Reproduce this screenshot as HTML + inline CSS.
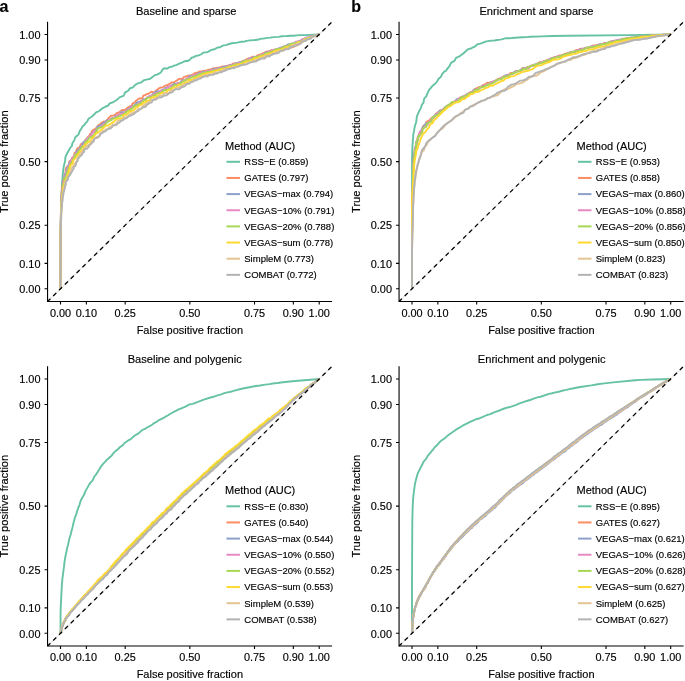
<!DOCTYPE html><html><head><meta charset="utf-8"><style>html,body{margin:0;padding:0;background:#fff;overflow:hidden}svg{display:block;will-change:transform}text{stroke:#000;stroke-width:0.15px}</style></head><body>
<svg width="685" height="681" viewBox="0 0 685 681" font-family="'Liberation Sans', sans-serif" fill="#000">
<rect width="685" height="681" fill="#fff"/>
<clipPath id="clipa"><rect x="47.56" y="21.78" width="284.57" height="279.73"/></clipPath>
<line x1="47.56" y1="301.51" x2="332.13" y2="21.78" stroke="#e6e6e6" stroke-width="1.1"/>
<g clip-path="url(#clipa)" fill="none" stroke-linejoin="round" stroke-linecap="butt">
<path d="M60.50 288.80l0.04 -48.19l0.47 -27.85l0.36 -14.99l0.47 -9.62l0.13 -5.36l0.57 -4.26l0.07 -2.14l0.79 -7.46l0.46 -3.18l1.15 -4.13l0.41 -4.36l0.35 -1.03l1.37 -2.96l2.23 -3.7l0.4 -1l0.53 -0.93l0.85 -0.77l0.68 -0.85l0.41 -2.2l0.36 -1.03l1.25 -1.76l0.48 -0.96l0.72 -2.07l0.51 -0.95l0.8 -0.77l0.95 -0.66l0.79 -0.76l0.56 -0.91l0.7 -2.11l0.49 -0.96l1.27 -1.72l1.55 -2.85l1.75 -1.39l1.12 -1.84l0.87 -0.68l0.72 -0.8l0.94 -2.04l0.65 -0.88l0.84 -0.69l1.03 -0.49l0.93 -0.58l3.11 -2.97l1.48 -1.59l0.99 -0.48l1.09 -0.33l0.93 -0.54l2.46 -2.09l3.69 -2.19l2.08 -0.73l0.88 -0.61l1.38 -1.81l0.91 -0.57l1.13 -0.23l1.04 -0.36l1.83 -1.13l1.89 -1.03l3.23 -2.87l0.97 -0.5l2.14 -0.7l0.93 -0.55l0.57 -1.03l0.38 -1.3l0.64 -0.93l2.82 -1.6l0.74 -0.78l0.58 -1.03l0.79 -0.74l2.19 -0.64l0.89 -0.6l1.49 -1.63l0.82 -0.73l1.87 -1.12l1.02 -0.4l2.2 -0.45l0.91 -0.58l1.71 -1.41l0.95 -0.49l3.16 -0.84l2.21 -0.34l0.97 -0.47l0.84 -0.72l1.77 -1.23l1.65 -1.45l2.12 -0.58l2.87 -1.47l0.9 -0.57l0.68 -0.97l0.59 -1.1l0.71 -0.93l0.78 -0.81l1.01 -0.41l2.65 0.33l0.94 -0.51l0.84 -0.73l1.02 -0.35l1.12 -0.12l1.03 -0.32l1.94 -0.91l2.09 -0.53l0.98 -0.42l1.87 -1.12l3.03 -1.08l1.91 -0.99l1.01 -0.35l1.09 -0.16l1.17 0l1.05 -0.29l1.75 -1.35l1.59 -1.63l2.09 -0.58l1.85 -1.09l1.02 -0.36l2.21 -0.35l0.99 -0.39l1.9 -0.97l1.74 -1.43l1.04 -0.26l1.18 0.08l1.12 -0.06l1 -0.38l2.82 -1.64l0.97 -0.46l1.02 -0.33l2.16 -0.35l0.96 -0.47l0.9 -0.66l0.95 -0.52l2.16 -0.31l1.01 -0.34l1.9 -1.12l1.01 -0.36l2.14 -0.31l5.12 -1.62l1.05 -0.19l5.35 -0.61l2.06 -0.61l2.11 -0.36l3.22 -0.23l2.08 -0.55l3.17 -0.57l5.36 -0.33l3.17 -0.53l2.07 -0.67l1.05 -0.18l2.16 -0.02l3.14 -0.75l3.21 -0.26l4.25 -0.5l4.28 -0.25l3.18 -0.56l2.13 -0.23l3.22 -0.06l3.2 -0.33l3.22 0l3.19 -0.35l4.29 -0.18l3.21 -0.02l14.98 -0.64" stroke="#66C2A5" stroke-width="1.9"/>
<path d="M60.50 288.80l0.03 -52.63l0.5 -31.16l0.16 -5.54l0.35 -6.92l0.25 -1.37l0.23 -2.77l0.45 -2.73l0.32 -1.36l0.38 -2.74l0.59 -2.01l0.16 -1.38l0.58 -2l0.15 -1.38l0.77 -1.23l0.17 -0.67l-0.03 -1.45l0.17 -0.68l0.04 -1.46l0.17 -0.68l0.53 -1.3l1.19 -1.01l0.45 -0.56l1.11 -0.99l0.24 -0.64l-0.32 -1.72l0.1 -0.74l0.47 -0.53l1.23 -0.89l0.41 -0.56l0.51 -1.31l0.42 -0.55l1.15 -0.91l0.37 -0.58l0.59 -2.94l0.38 -0.58l0.65 -0.39l0.53 -0.48l0.38 -1.42l0.67 -1.23l0.24 -0.69l0.41 -0.55l1.62 -0.55l0.47 -0.51l0.6 -1.28l0.4 -1.43l0.65 -0.38l1.75 -0.41l0.61 -0.39l0.34 -0.6l0.49 -1.38l0.66 -1.25l0.57 -0.43l0.73 -0.28l0.52 -0.46l0.52 -1.38l1.13 -0.85l0.45 -0.53l0.5 -1.4l0.36 -0.6l1.22 -0.77l0.32 -0.64l0.14 -0.82l0.35 -0.61l0.99 -0.99l0.58 -0.41l0.78 -0.22l0.67 -0.31l0.9 -1.05l1.04 -0.92l0.39 -0.61l0.3 -0.71l0.43 -0.57l1.88 -1.03l0.95 -1.06l0.57 -0.41l1.24 -0.68l0.54 -0.45l0.72 -0.21l1.77 0.11l0.5 -0.49l0.33 -0.75l0.98 -1.05l0.87 -1.26l1.18 -0.79l0.88 -1.3l0.7 -0.21l0.79 -0.03l0.71 -0.17l1.4 -0.38l0.65 -0.28l2.2 -1.85l1.45 -0.31l0.58 -0.39l0.52 -0.54l1.25 -0.64l0.56 -0.46l0.46 -0.6l0.66 -0.28l1.88 0.4l0.64 -0.33l0.51 -0.53l1.24 -0.7l0.44 -0.62l0.52 -0.51l1.3 -0.61l0.56 -0.45l0.66 -0.29l0.8 -0.11l0.64 -0.33l0.36 -0.72l0.22 -0.9l0.35 -0.72l0.63 -0.34l1.38 -0.51l0.5 -0.51l0.35 -0.72l0.44 -0.61l1.23 -0.71l1.64 -1.39l0.67 -0.26l1.77 0.2l0.76 -0.08l0.54 -0.46l0.52 -1.93l0.48 -0.57l1.38 -0.42l1.86 -0.99l2.08 -0.55l1.18 -0.75l1.07 -0.97l0.67 -0.2l1.92 0.7l0.78 0l0.51 -0.51l0.42 -0.71l0.51 -0.54l0.6 -0.34l1.67 -1.31l1.77 -1.1l0.65 -0.25l1.57 0.1l2.87 -1.98l0.67 -0.2l1.4 -0.22l1.25 -0.55l1.11 -0.88l0.64 -0.26l0.59 -0.37l0.51 -0.54l0.61 -0.33l1.52 0.11l0.71 -0.07l0.58 -0.38l0.54 -0.5l2.41 -1.32l1.04 -1.04l0.63 -0.25l0.68 -0.13l2.3 0.19l0.62 -0.28l0.89 -1.38l0.55 -0.43l0.64 -0.24l1.36 -0.28l1.23 -0.6l1.46 -0.02l3.31 -0.87l0.62 -0.28l1.7 -1.3l2 -0.52l1.36 -0.2l0.62 -0.34l0.57 -0.5l0.63 -0.28l1.4 -0.09l3.39 -0.6l1.42 0.06l0.67 -0.14l1.25 -0.74l3.36 -0.77l2.63 -0.89l2.1 -0.07l1.32 -0.43l1.43 0.04l0.68 -0.12l3.26 -1.22l1.46 0.09l0.7 -0.05l2.62 -0.92l1.44 0.01l0.64 -0.28l0.61 -0.43l1.99 -0.57l1.21 -0.83l0.69 -0.1l2.17 0.02l1.94 -0.77l1.48 0.05l2.52 -1.23l0.58 -0.43l0.63 -0.3l1.35 -0.36l3.69 -1.95l1.37 -0.31l3.17 -1.41l0.74 -0.01l1.63 0.41l0.62 -0.33l1.07 -1.06l2.54 -1.14l2.02 -0.5l1.2 -0.77l1.35 -0.32l0.64 -0.27l1.15 -0.91l0.64 -0.27l1.49 0.06l1.29 -0.43l1.88 -0.84l1.34 -0.18l1.94 -0.5l1.32 -0.16l1.3 -0.31l2 -0.02l7.21 -1.1l2.04 -0.04l2.05 -0.17l0.66 -0.22l1.26 -0.62l1.43 -0.12l0.58 -0.47l0.45 -0.76l0.61 -0.36l1.59 0.07l2.56 -1.39l0.59 -0.47l0.99 -1.25l0.65 -0.35l1.47 -0.45l1.77 -1.44l1.1 -1.12l0.7 -0.28l1.77 0.1l0.75 -0.17l1.89 -1.16l2 -0.84l1.22 -0.84l1.35 -0.44l3.42 -0.75" stroke="#FC8D62" stroke-width="1.9"/>
<path d="M60.50 288.80l0.05 -54.6l0.39 -22.11l0.32 -11.06l0.17 -2.76l-0.02 -2.07l0.37 -2.05l0.17 -2.07l0.43 -2.03l0.41 -1.34l0.14 -4.17l0.3 -1.35l0.74 -1.97l0.07 -1.39l0.57 -1.99l-0.1 -1.45l0.08 -0.7l0.67 -1.25l0.33 -1.34l0.81 -1.92l0.2 -2.14l0.77 -1.2l0.47 -1.3l0.4 -0.59l0.55 -1.27l0.68 -1.22l0.29 -1.42l0.35 -0.6l0.46 -0.54l1.76 -1.37l0.75 -1.16l1.11 -0.92l0.43 -0.54l0.51 -2.14l0.51 -1.33l0.65 -1.23l0.51 -1.34l0.57 -0.45l1.53 -0.59l0.45 -0.53l0.4 -1.42l0.36 -0.6l0.52 -0.47l1.24 -0.79l0.43 -0.54l0.02 -1.74l0.2 -0.72l0.47 -0.52l1.48 -0.58l0.84 -1.1l1.15 -0.84l0.56 -1.34l0.51 -0.47l2.07 -0.94l0.56 -0.41l0.47 -0.51l0.29 -0.66l0.25 -1.65l0.44 -0.53l1.16 -0.81l0.89 -1.06l0.53 -0.44l0.7 -0.29l0.59 -0.37l1.01 -0.93l0.38 -0.6l0.28 -1.75l0.47 -0.52l1.35 -0.56l0.75 -0.19l0.62 -0.32l0.46 -0.54l1.18 -0.73l0.88 -1.13l1.83 -1.01l1.61 -1.33l1.34 -0.48l0.58 -0.37l0.66 -0.24l1.46 -0.21l1.59 -1.39l0.6 -0.33l1.4 -0.3l0.59 -0.36l0.94 -1.21l0.61 -0.31l1.51 -0.09l0.69 -0.16l1.26 -0.58l0.54 -0.48l0.68 -1.67l0.51 -0.5l1.57 0.01l0.74 -0.09l1.46 -0.24l0.65 -0.27l1.38 -1.75l1.15 -0.78l1.24 -0.62l0.57 -0.39l0.95 -1.08l0.63 -0.29l1.39 -0.42l0.55 -0.41l0.97 -1.03l1.23 -0.65l0.52 -0.47l0.76 -1.36l0.71 -0.2l0.91 0.15l0.79 -0.04l0.54 -0.43l0.45 -0.6l0.6 -0.33l0.79 0l0.68 -0.2l0.82 -1.36l0.63 -0.3l1.75 0.36l0.61 -0.32l1.4 -1.79l1.11 -0.86l0.64 -0.27l1.44 -0.21l0.59 -0.37l0.94 -1.21l0.55 -0.46l0.62 -0.3l1.11 -0.87l1.76 -1.14l0.62 -0.3l0.76 -0.02l1.69 0.32l0.62 -0.3l0.47 -0.61l0.58 -0.4l2.03 -0.56l0.64 -0.27l0.94 -1.24l0.62 -0.31l0.72 -0.1l0.63 -0.29l0.55 -0.44l0.66 -0.23l0.75 -0.02l0.69 -0.15l0.63 -0.3l0.62 -0.3l1.07 -0.97l1.29 -0.52l1.13 -0.86l1.58 0.14l0.66 -0.21l0.6 -0.35l1.32 -0.44l1.38 -0.31l0.57 -0.42l0.98 -1.17l1.13 -0.83l0.73 -0.08l0.91 0.29l0.78 0.03l1.12 -0.84l1.4 -0.28l0.53 -0.5l0.79 -1.57l0.48 -0.61l0.54 -0.49l0.67 -0.21l2.21 -0.13l1.56 0.15l0.65 -0.24l1.69 -1.35l2.48 -1.27l0.69 -0.13l1.44 -0.03l1.86 -1.05l0.66 -0.21l0.73 0.06l0.78 0.22l0.71 0l1.24 -0.71l3.37 -0.78l2.56 -1.15l0.67 -0.17l2.76 -0.36l1.96 -0.69l2.18 0.17l3.87 -1.61l0.68 -0.11l0.76 0.15l0.69 -0.09l1.24 -0.72l1.93 -0.79l0.69 -0.1l1.44 0.03l1.39 -0.18l0.65 -0.23l1.78 -1.31l2.1 -0.21l2.55 -1.09l2.09 -0.29l0.65 -0.26l1.2 -0.73l0.7 -0.1l1.54 0.16l0.72 -0.06l0.56 -0.47l0.99 -1.26l0.56 -0.48l0.6 -0.36l0.65 -0.22l2.11 -0.31l1.24 -0.63l0.7 -0.11l1.51 0.11l0.69 -0.14l1.85 -0.97l1.33 -0.38l0.6 -0.36l1.35 -0.33l0.64 -0.27l1.22 -0.69l1.74 -1.28l0.63 -0.3l3.42 -0.7l0.75 0.05l0.69 -0.12l1.16 -0.86l1.91 -0.83l0.65 -0.22l0.75 0.04l0.7 -0.09l1.22 -0.71l1.32 -0.4l1.26 -0.59l1.36 -0.29l1.23 -0.68l0.65 -0.21l1.37 -0.27l2.53 -1.15l1.18 -0.83l0.67 -0.18l1.44 -0.05l0.68 -0.13l0.62 -0.33l0.66 -0.19l1.48 0l0.65 -0.23l1.14 -0.88l0.69 -0.14l0.74 -0.02l0.65 -0.23l1.15 -0.85l0.63 -0.29l1.38 -0.27l1.11 -0.95l0.66 -0.19l0.73 -0.04l0.66 -0.2l2.34 -1.66l0.69 -0.12l1.47 0l1.41 -0.14l1.99 -0.51l1.24 -0.66l1.93 -0.78l2.01 -0.53l2.05 -0.31" stroke="#8DA0CB" stroke-width="1.9"/>
<path d="M60.50 288.80l0.06 -55.91l0.53 -24.84l0.28 -8.28l0.22 -2.75l0.26 -2.74l0.23 -1.37l0.08 -2.07l0.44 -1.33l0.12 -0.68l0.01 -1.4l0.59 -1.29l0.14 -0.68l-0.14 -2.13l0.04 -0.7l0.22 -0.66l0.74 -1.24l0.27 -0.65l0.19 -1.36l0.58 -1.27l0 -1.42l0.52 -1.28l0.24 -1.37l0.27 -0.64l0.14 -1.41l0.16 -0.68l0.35 -0.6l0.98 -1.1l0.36 -0.6l0.14 -1.43l0.43 -0.57l0.57 -0.49l0.39 -0.57l0.12 -0.71l0 -0.77l0.39 -1.36l0.09 -0.74l0.28 -0.65l0.57 -0.47l0.4 -0.57l0.24 -1.48l0.28 -0.65l1.14 -0.92l1.54 -2.31l1.07 -0.94l2.31 -2.59l1.06 -0.93l1.72 -3.02l0.59 -0.42l0.68 -0.34l1.45 -1.49l0.3 -1.52l0.32 -0.62l0.54 -0.46l0.65 -0.35l0.46 -0.51l0.47 -1.42l0.89 -1.05l1 -1.89l0.5 -0.48l1.24 -0.74l1.46 -1.47l0.39 -0.58l0.56 -1.38l0.55 -0.42l1.33 -0.65l1.57 -0.37l0.66 -0.3l0.36 -0.62l0.17 -0.81l0.37 -0.61l1.37 -0.54l1.71 -1.15l0.55 -0.4l1.4 -1.54l0.52 -0.45l2.38 -1.4l1.57 -1.35l1.22 -0.64l0.73 -1.47l0.64 -0.29l1.71 0.23l0.6 -0.32l0.96 -1.14l0.68 -0.18l0.76 -0.02l0.64 -0.28l2.04 -2.06l1.06 -0.95l0.61 -0.32l0.77 -0.01l0.71 -0.13l0.56 -0.42l0.64 -0.26l1.57 -0.01l0.67 -0.22l0.55 -0.43l0.98 -1.08l1.09 -0.88l0.62 -0.3l1.35 -0.45l2.53 -2.45l0.55 -0.41l1.2 -0.68l0.66 -0.26l1.67 0l0.65 -0.28l0.46 -0.54l1.17 -0.73l0.88 -1.15l0.57 -0.39l1.36 -0.41l0.62 -0.31l0.52 -0.46l0.92 -1.14l1.31 -0.48l1.21 -0.67l0.67 -0.21l0.53 -0.47l0.81 -1.4l0.6 -0.34l1.37 -0.37l1.15 -0.79l0.63 -0.29l1.48 -0.14l0.59 -0.36l0.45 -0.65l0.56 -0.4l1.33 -0.44l1.16 -0.77l2.07 -0.48l0.61 -0.33l1.1 -0.9l0.59 -0.35l1.46 -0.15l1.38 -0.32l0.55 -0.44l0.49 -0.59l0.66 -0.22l0.79 0.07l0.61 -0.33l0.82 -1.49l0.57 -0.41l1.23 -0.63l1.28 -0.54l1.45 -0.15l2.08 -0.43l0.63 -0.28l1.13 -0.85l1.43 -0.2l0.58 -0.4l0.5 -0.54l0.66 -0.24l1.54 0.06l0.71 -0.13l0.52 -0.51l0.84 -1.46l0.6 -0.35l0.77 0.02l0.85 0.17l0.69 -0.16l0.7 -1.73l0.57 -0.41l1.92 -0.8l1.43 -0.19l1.9 -0.84l1.11 -0.91l0.6 -0.37l2.03 -0.52l1.41 -0.19l1.27 -0.54l0.69 -0.13l0.73 0.01l0.66 -0.2l1.11 -1.06l0.7 -0.07l0.79 0.23l0.73 0.06l0.66 -0.22l1.22 -0.75l0.64 -0.27l2.01 -0.52l0.7 -0.02l0.67 -0.18l1.25 -0.7l1.32 -0.39l0.68 -0.16l1.43 0.08l1.4 -0.09l1.89 -0.98l0.65 -0.24l2.06 -0.31l1.44 0.07l0.7 -0.08l1.31 -0.45l2.01 -0.51l0.62 -0.32l1.19 -0.89l0.65 -0.24l1.46 0.09l0.68 -0.11l1.88 -1l1.28 -0.54l2.71 -0.56l1.27 -0.57l1.44 0.01l1.39 -0.17l0.64 -0.28l0.59 -0.43l0.65 -0.22l0.74 0.04l0.68 -0.15l0.58 -0.43l0.64 -0.27l1.45 -0.06l0.64 -0.27l1.12 -0.93l1.29 -0.5l1.06 -1.1l0.72 -0.04l0.81 0.19l0.74 -0.02l1.24 -0.59l1.4 -0.22l1.24 -0.61l1.18 -0.79l1.23 -0.65l1.32 -0.41l1.39 -0.22l0.66 -0.2l1.15 -0.88l0.68 -0.15l1.43 -0.12l0.65 -0.21l0.61 -0.35l1.16 -0.86l0.64 -0.26l1.39 -0.19l1.34 -0.38l1.06 -1.13l0.65 -0.24l0.78 0.13l0.82 0.27l0.73 -0.02l1.13 -0.94l0.65 -0.24l1.4 -0.17l2.52 -1.14l1.38 -0.25l1.75 -1.28l1.4 -0.15l1.31 -0.43l2.78 -0.4l1.33 -0.39l1.29 -0.52l1.15 -0.87l1.23 -0.63l1.08 -1.05l0.59 -0.36l3.54 -0.43l0.64 -0.27l1.06 -1.05l0.58 -0.42l0.64 -0.26l1.39 -0.25l1.21 -0.68l0.66 -0.21l0.74 -0.02l1.53 0.16l0.58 -0.41l0.98 -1.37l0.62 -0.34l1.47 0.04l2.75 -0.42l0.67 -0.15l1.3 -0.5l2.7 -0.54" stroke="#E78AC3" stroke-width="1.9"/>
<path d="M60.50 288.80l0.02 -49.59l0.44 -26.86l0.19 -2.76l0.09 -4.13l0.47 -7.56l0.99 -6.8l-0.12 -2.11l0.56 -2l-0.01 -1.41l0.07 -0.69l0.19 -0.66l0.33 -0.64l0.98 -1.18l0.27 -0.64l-0.1 -0.72l-0.61 -1.58l-0.02 -0.72l0.42 -0.6l1.13 -1.11l0.31 -0.61l0.66 -1.95l0.1 -0.69l-0.09 -0.75l0.05 -0.72l0.43 -0.57l0.68 -0.48l0.43 -0.56l-0.05 -1.51l0.18 -0.67l2.08 -3.58l0.67 -1.98l0.84 -1.11l0.32 -0.61l0.36 -1.39l0.3 -0.62l1.41 -1.56l0.2 -0.7l0.06 -0.79l0.25 -0.66l0.89 -1.07l1.75 -1.31l1.48 -2.33l1.01 -0.96l0.53 -1.33l0.38 -0.58l1.08 -0.9l0.39 -0.57l0.53 -0.45l0.79 -0.26l0.63 -0.37l0.26 -0.67l0.2 -1.62l0.19 -0.74l0.56 -0.43l0.77 -0.26l0.62 -0.36l0.64 -1.28l0.95 -1l0.77 -1.16l0.47 -0.51l0.74 -0.25l0.91 -0.09l0.72 -0.26l0.82 -1.11l1.16 -0.79l0.48 -0.48l0.52 -1.41l0.36 -0.62l0.9 -1.04l0.3 -0.69l0.42 -1.58l0.48 -0.51l1.4 -0.53l1.25 -0.66l1.54 -0.27l1.37 -0.46l0.45 -0.53l0.36 -0.68l0.51 -0.45l1.16 -0.73l0.45 -0.56l0.77 -1.34l0.52 -0.47l1.72 -1.18l0.69 -0.2l0.77 -0.05l0.65 -0.26l0.91 -1.22l0.58 -0.36l2.85 -0.54l1.83 -0.95l1.95 -0.74l1.77 -1.06l1.39 -0.34l0.62 -0.31l1.72 -1.17l0.51 -0.5l0.4 -0.68l0.5 -0.51l0.67 -0.22l0.58 -0.37l0.47 -0.55l0.6 -0.33l1.54 -0.14l0.49 -0.52l0.39 -0.66l0.6 -0.34l0.71 -0.17l0.54 -0.44l0.27 -0.83l0.36 -0.69l1.29 -0.55l0.51 -0.49l0.6 -0.33l0.81 -0.03l0.71 -0.19l0.53 -0.45l0.63 -0.28l1.48 -0.23l1.03 -0.95l1.09 -0.85l1.49 -1.54l0.64 -0.28l0.74 -0.09l0.59 -0.35l1.41 -1.72l0.57 -0.41l0.71 -0.13l1.55 -0.02l0.69 -0.16l1.2 -0.69l1.07 -0.94l0.59 -0.35l1.42 -0.24l0.61 -0.31l1 -1.09l0.63 -0.28l1.38 -0.32l1.26 -0.55l0.71 -0.12l0.65 -0.22l1.21 -0.68l2.28 -1.62l0.67 -0.19l1.61 0.16l0.67 -0.19l1.72 -1.18l0.62 -0.31l1.38 -0.29l0.63 -0.28l0.96 -1.2l0.59 -0.36l0.53 -0.49l0.45 -0.66l0.61 -0.33l1.71 0.41l0.74 -0.05l0.67 -0.19l0.6 -0.34l1.54 -1.58l1.32 -0.43l1.09 -0.91l2.46 -1.26l1.08 -0.93l1.46 -0.14l1.99 -0.63l1.09 -0.92l0.63 -0.28l0.71 -0.1l0.64 -0.26l0.56 -0.43l0.65 -0.23l0.77 0.04l0.7 -0.1l1.15 -0.82l1.31 -0.44l1.2 -0.72l1.28 -0.53l2.02 -0.48l1.94 -0.72l2.09 -0.2l1.24 -0.71l0.65 -0.23l1.48 0.22l0.7 -0.04l1.24 -0.69l1.29 -0.53l0.7 -0.03l0.74 0.11l0.69 -0.06l2.02 -0.45l0.65 -0.26l1.21 -0.81l0.67 -0.15l1.46 0.12l1.9 -0.88l2.07 -0.27l1.99 -0.58l1.91 -0.82l1.4 -0.12l1.28 -0.53l1.36 -0.26l1.21 -0.8l1.28 -0.51l1.4 -0.13l2.23 0.25l0.62 -0.36l1.06 -1.22l0.58 -0.45l1.26 -0.54l1.96 -0.63l1.21 -0.69l0.71 -0.07l1.54 0.2l0.72 -0.06l0.63 -0.27l1.18 -0.78l0.69 -0.13l0.74 0.03l0.64 -0.27l1.02 -1.18l1.2 -0.72l1.45 -0.06l0.69 -0.14l3.78 -1.69l2.12 -0.22l0.67 -0.16l0.62 -0.32l1.7 -1.38l0.64 -0.23l1.42 -0.13l3.29 -1.04l1.27 -0.55l0.7 -0.07l0.64 -0.25l1.06 -1.14l0.6 -0.37l1.44 -0.07l1.31 -0.43l1.43 -0.07l1.3 -0.45l0.7 -0.11l0.64 -0.26l1.66 -1.5l0.66 -0.2l2.18 -0.01l0.68 -0.15l0.62 -0.31l1.08 -1.08l0.57 -0.43l2.03 -0.44l1.25 -0.57l0.66 -0.19l1.41 -0.17l1.3 -0.44l1.25 -0.59l1.48 -0.03l2.06 -0.44l1.78 -1.08l1.12 -0.89l0.62 -0.3l1.96 -0.65l0.62 -0.3l0.57 -0.43l0.64 -0.27l1.44 -0.06l1.24 -0.6l1.37 -0.24l0.61 -0.31l1.19 -0.8l0.64 -0.27l0.67 -0.19l1.38 -0.15l2 -0.48" stroke="#A6D854" stroke-width="1.9"/>
<path d="M60.50 288.80l0.02 -48.72l0.23 -14.4l0.2 -4.8l0.25 -10.98l0.36 -5.47l0.03 -2.06l0.07 -0.69l0.45 -2.02l0.02 -2.06l0.35 -2.03l0.12 -2.06l0.32 -1.33l0.2 -1.36l0.03 -2.09l0.57 -2.69l0.54 -1.28l0.15 -0.67l0.02 -1.41l0.15 -0.67l0.28 -0.64l1.67 -2.33l0.19 -0.66l0.14 -1.39l0.58 -1.23l0.33 -1.34l0.77 -1.16l0.21 -0.65l-0.08 -1.52l0.37 -0.58l0.57 -0.5l0.21 -0.66l0.02 -0.75l0.14 -0.69l0 -0.76l-0.16 -0.85l0.12 -0.72l0.64 -0.46l0.83 -0.34l0.64 -0.45l0.43 -0.55l0.34 -0.6l0.1 -1.51l0.22 -0.67l0.35 -0.6l0.39 -0.58l0.98 -1.01l0.7 -1.2l0.66 -0.39l0.55 -0.46l0.33 -1.44l1.31 -0.75l0.99 -1.83l0.5 -1.36l0.54 -0.45l1.42 -0.62l0.52 -0.46l0.86 -1.07l0.35 -0.59l0.23 -1.59l0.33 -0.62l3.08 -2.79l0.9 -1.04l1.59 -0.4l0.73 -1.19l0.54 -0.43l0.4 -0.56l0.21 -0.75l0.35 -0.61l1.7 -1.21l0.42 -0.55l1.07 -1.84l0.48 -0.5l1.09 -0.85l1.25 -0.66l0.85 -1.11l2.26 -1.57l1.54 -1.37l0.64 -0.28l0.51 -0.46l0.36 -0.68l1.58 -1.34l0.7 -0.19l0.87 0.06l0.77 -0.08l0.62 -0.29l0.95 -1.05l0.58 -0.36l1.26 -0.56l1.04 -0.92l1.27 -0.54l0.46 -0.57l0.37 -0.73l0.52 -0.49l0.62 -0.3l1.11 -0.82l0.62 -0.3l2.27 -0.13l2.82 -0.57l0.45 -0.61l0.41 -2.09l0.4 -0.66l0.79 0l0.93 0.24l0.74 -0.1l1.17 -0.72l0.49 -0.52l0.72 -1.43l0.65 -0.26l0.77 -0.06l0.68 -0.22l1.1 -0.82l1.46 -0.28l1.24 -0.63l0.43 -0.59l0.56 -1.61l0.66 -0.26l0.87 0.06l0.68 -0.21l0.91 -1.11l1.11 -0.82l0.59 -0.34l1.46 -0.26l0.46 -0.56l0.29 -0.84l0.44 -0.59l0.72 -0.14l0.81 0.03l0.68 -0.21l1.53 -1.46l0.67 -0.21l1.62 0.08l0.58 -0.35l0.41 -0.67l0.49 -0.55l0.55 -0.41l0.9 -1.23l0.64 -0.27l1.53 -0.03l1.42 -0.22l0.63 -0.27l1.05 -0.97l0.61 -0.31l1.35 -0.35l0.58 -0.4l1.49 -1.66l0.71 -0.11l1.63 0.26l0.69 -0.15l1.89 -0.82l0.51 -0.53l0.45 -0.65l0.52 -0.5l0.6 -0.35l0.65 -0.23l1.44 -0.16l1.29 -0.49l0.99 -1.11l0.55 -0.43l0.64 -0.25l2.22 -0.13l0.59 -0.36l0.89 -1.32l0.49 -0.56l0.64 -0.25l2.28 0l0.72 -0.09l0.62 -0.29l1.09 -0.91l2.43 -1.27l1.44 -0.18l0.46 -0.63l0.37 -0.8l0.49 -0.58l0.67 -0.19l3.07 0.09l0.6 -0.33l0.46 -0.63l0.56 -0.43l1.83 -0.92l1.35 -0.32l3.14 -1.31l1.31 -0.4l1.71 -1.39l0.63 -0.28l1.35 -0.28l1.29 -0.49l1.42 -0.04l0.66 -0.17l1.31 -0.42l1.23 -0.7l0.68 -0.11l1.48 0.21l0.67 -0.15l1.18 -0.89l0.62 -0.31l2 -0.5l1.42 0.01l0.67 -0.18l1.21 -0.73l0.64 -0.26l1.48 0.18l0.69 -0.08l1.31 -0.42l1.34 -0.3l1.87 -0.94l1.21 -0.76l0.67 -0.15l1.41 -0.06l2.03 -0.37l1.32 -0.4l0.72 0.02l0.67 -0.15l1.15 -0.97l0.66 -0.17l1.44 0.03l1.91 -0.81l1.38 -0.18l0.66 -0.2l0.6 -0.38l1.07 -1.08l0.63 -0.29l0.7 -0.08l1.55 0.27l0.69 -0.1l1.09 -1.02l0.63 -0.27l1.45 -0.02l0.66 -0.22l0.55 -0.48l1.03 -1.18l0.64 -0.24l1.46 -0.01l1.31 -0.42l1.35 -0.3l1.14 -0.87l0.64 -0.25l0.67 -0.15l1.46 -0.03l0.63 -0.26l0.55 -0.5l0.61 -0.33l3.31 -0.93l1.24 -0.6l0.66 -0.21l2.01 -0.48l0.63 -0.28l1.74 -1.25l0.61 -0.33l2.66 -0.72l3.41 -0.65l3.22 -1.17l1.2 -0.72l1.25 -0.57l0.69 -0.11l0.76 0.08l0.68 -0.15l1.14 -0.85l0.63 -0.27l1.2 -0.72l0.68 -0.13l2.15 -0.18l0.63 -0.27l1.59 -1.53l0.63 -0.27l1.94 -0.69l0.74 -0.02l0.81 0.14l0.68 -0.16l1.04 -1.05l1.32 -0.4l0.6 -0.33l1.1 -0.9l1.21 -0.67l1.32 -0.38l2.05 -0.43l1.79 -1.05l2.57 -0.9l1.23 -0.66l3.33 -0.8" stroke="#FFD92F" stroke-width="1.9"/>
<path d="M60.50 288.80l0.01 -43.69l0.18 -16.38l0.17 -2.73l0.26 -8.19l0.01 -3.41l0.31 -5.45l0.24 -2.04l0.01 -2.05l0.22 -2.04l0.26 -1.35l-0.12 -2.07l0.61 -1.99l0.02 -2.06l0.82 -3.32l-0.08 -2.11l0.6 -1.27l0.31 -1.34l0.7 -1.93l0.1 -1.39l0.47 -2.02l0.24 -0.64l1.19 -1.01l0.45 -0.55l0.2 -0.65l-0.17 -1.54l0.13 -0.69l0.57 -0.5l0.71 -0.43l0.47 -0.53l0.28 -0.62l0.45 -2.04l1.18 -1.7l0.18 -0.67l0.09 -1.48l0.2 -0.66l0.94 -1.83l1.34 -0.84l0.14 -1.47l1.09 -0.96l1.03 -1.76l1.19 -0.87l0.04 -0.76l-0.1 -0.87l0.27 -0.64l1.14 -0.87l0.35 -0.59l0.34 -1.44l0.82 -1.1l0.48 -1.37l2.91 -2.92l0.72 -1.19l0.52 -0.45l0.38 -0.58l0.21 -0.72l0.36 -0.6l0.59 -0.39l1.47 -0.52l0.96 -0.98l0.7 -0.28l0.81 -0.18l0.53 -0.42l0.18 -1.72l0.42 -0.55l0.68 -0.29l0.54 -0.42l0.84 -1.1l0.5 -0.46l1.22 -0.7l0.88 -1.05l0.51 -0.45l0.63 -0.33l1.44 -0.43l0.48 -0.48l0.29 -0.7l0.14 -0.88l0.27 -0.73l1.3 -0.58l0.49 -0.48l0.37 -0.63l0.46 -0.53l0.73 -0.18l0.85 -0.02l0.61 -0.31l0.38 -0.64l0.5 -0.47l1.38 -0.41l0.61 -0.3l0.96 -1.01l0.69 -0.19l0.6 -0.32l0.49 -0.51l1.21 -0.62l0.5 -0.49l0.37 -0.71l0.49 -0.5l0.82 0.04l0.96 0.27l0.82 0.04l0.52 -0.44l0.58 -1.7l0.4 -0.68l1.47 -1.55l0.59 -0.34l0.86 0.13l1.01 0.38l0.83 0.09l0.5 -0.51l1.11 -2.17l0.5 -0.5l0.72 -0.11l0.84 0.08l0.64 -0.27l0.48 -0.51l0.65 -0.25l0.75 -0.1l0.59 -0.33l0.81 -1.28l0.56 -0.38l0.7 -0.18l0.59 -0.34l0.44 -0.57l0.54 -0.42l3.48 -0.96l0.64 -0.28l0.44 -0.56l0.6 -1.54l0.59 -0.34l1.79 0.22l0.74 -0.11l0.51 -0.46l0.74 -1.36l0.48 -0.51l0.86 -1.18l2.23 -1.59l1.81 -0.97l1.02 -0.95l1.37 -0.37l0.55 -0.41l0.89 -1.2l0.55 -0.42l1.48 -0.16l2.29 -1.54l0.71 -0.11l0.78 0.03l0.69 -0.13l1.15 -0.75l0.51 -0.54l0.4 -0.75l0.59 -0.36l1.56 0.12l0.72 -0.06l0.61 -0.3l0.8 -1.55l0.54 -0.46l1.52 0.06l0.72 -0.08l1.35 -0.34l0.8 0.11l0.69 -0.15l0.45 -0.65l0.38 -0.78l0.49 -0.54l1.21 -0.64l0.67 -0.18l1.45 -0.14l1.26 -0.55l0.58 -0.36l0.76 -1.54l0.67 -0.17l0.86 0.18l0.74 -0.03l1.1 -0.86l1.25 -0.55l1.12 -0.83l1.27 -0.52l1.12 -0.81l1.42 -0.2l1.48 -0.07l0.69 -0.14l0.53 -0.47l0.43 -0.69l0.5 -0.54l0.69 -0.13l0.82 0.13l0.72 -0.08l0.51 -0.5l0.41 -0.74l0.54 -0.45l1.44 -0.14l1.86 -0.85l1.12 -0.85l0.65 -0.22l0.66 -0.18l1.44 -0.07l0.59 -0.35l0.48 -0.66l0.57 -0.46l1.4 -0.14l1.18 -0.79l0.63 -0.29l0.7 -0.04l1.49 0.19l1.91 -0.76l1.31 -0.37l1.42 0l0.65 -0.21l1.77 -1.23l0.65 -0.23l0.74 0.11l0.8 0.28l0.73 0.07l0.63 -0.28l1.13 -0.98l0.61 -0.36l1.97 -0.54l0.62 -0.32l1.13 -0.97l0.62 -0.3l0.67 -0.12l1.51 0.25l2.11 -0.1l2.56 -0.95l1.8 -1.14l0.66 -0.18l1.41 -0.06l1.35 -0.22l1.43 0.03l0.65 -0.21l1.19 -0.8l1.26 -0.55l2.03 -0.38l1.25 -0.57l1.46 0.05l0.64 -0.23l1.72 -1.32l0.66 -0.19l1.43 -0.03l1.85 -0.91l0.66 -0.19l0.7 -0.05l0.65 -0.23l1.11 -0.94l0.67 -0.15l1.5 0.12l0.59 -0.36l1.05 -1.11l0.61 -0.32l1.43 -0.07l0.68 -0.13l1.21 -0.64l1.29 -0.48l1.1 -0.93l1.34 -0.31l1.41 -0.15l1.32 -0.36l1.41 -0.11l0.63 -0.29l1.06 -1.05l0.64 -0.24l0.7 -0.07l0.66 -0.19l2.35 -1.54l0.74 0.04l0.8 0.2l0.68 -0.13l1.75 -1.15l0.62 -0.3l1.5 0.11l2.4 -1.38l1.37 -0.24l0.64 -0.25l1.19 -0.7l0.66 -0.18l1.4 -0.19l0.53 -0.49l0.42 -0.77l0.53 -0.49l0.73 -0.03l0.66 -0.2l0.95 -1.22l1.45 -0.08l1.33 -0.37l0.76 0.02l0.7 -0.11l1.13 -0.81l0.69 -0.13l0.76 0.01l0.59 -0.36l0.82 -1.47l0.63 -0.26l2.15 -0.23l0.67 -0.19l1.22 -0.61l1.08 -0.9l1.37 -0.29l0.52 -0.49l0.58 -0.37l0.65 -0.22l1.08 -0.95l0.66 -0.2l1.56 0.25l0.63 -0.25l1.74 -1.18l1.94 -0.65" stroke="#E5C494" stroke-width="1.9"/>
<path d="M60.50 288.80l0.07 -53.11l0.2 -4.76l0.02 -2.73l0.17 -2.72l-0.02 -3.4l0.26 -4.08l0.06 -3.41l0.23 -2.71l0.05 -2.73l0.3 -2.71l0.09 -2.04l0.68 -4.03l0.13 -2.73l0.22 -1.34l0.36 -1.32l0.13 -2.05l0.47 -1.3l0.29 -1.33l0.61 -1.95l0.03 -1.4l0.15 -0.67l0.68 -1.21l0.17 -0.67l-0.04 -0.73l-0.2 -0.8l-0.02 -0.75l0.37 -0.6l1.11 -1.03l0.42 -0.56l0.36 -0.58l0.22 -0.65l0.12 -1.45l0.86 -1.1l0.24 -0.64l0.48 -0.53l0.61 -0.45l0.27 -0.63l0.12 -0.7l0.4 -0.57l0.53 -0.49l0.31 -0.61l0.17 -0.67l0.34 -0.59l0.96 -1.04l0.16 -0.68l-0.11 -0.82l0.15 -0.69l1.38 -0.81l0.42 -0.55l0.53 -1.26l0.16 -1.46l0.24 -0.64l0.39 -0.56l0.49 -0.5l0.32 -0.6l0.08 -1.56l0.36 -0.59l1.11 -0.9l0.71 -1.17l1.68 -1.29l0.42 -0.53l0.3 -0.64l0.19 -0.72l0.4 -0.56l0.66 -0.34l0.55 -0.42l0.17 -0.75l-0.07 -0.97l0.11 -0.81l0.54 -0.44l1.86 -0.17l0.63 -0.35l1.71 -2.12l0.34 -0.61l0.53 -1.38l1.41 -0.54l0.45 -0.5l0.34 -0.63l0.44 -0.53l1.16 -0.76l0.25 -0.73l0.05 -0.95l0.22 -0.78l0.5 -0.46l0.63 -0.33l1.67 -0.18l0.62 -0.33l0.47 -0.5l1.19 -0.71l0.43 -0.54l0.96 -2.05l0.56 -0.4l1.38 -0.47l0.91 -1.07l0.65 -0.28l1.42 -0.37l0.54 -0.43l0.82 -1.21l0.6 -0.33l1.35 -0.45l0.76 -0.07l0.68 -0.2l1.59 -1.3l0.81 -1.28l0.61 -0.3l1.45 -0.25l1.91 -0.78l0.87 -1.2l0.57 -0.37l0.69 -0.17l0.62 -0.3l1.37 -1.71l0.56 -0.39l1.38 -0.33l0.6 -0.32l1.02 -0.96l0.56 -0.38l1.4 -0.3l0.63 -0.27l1.98 -1.96l0.64 -0.26l1.46 -0.24l2.45 -1.26l0.57 -0.37l1.45 -1.5l0.55 -0.39l0.62 -0.31l1.35 -0.43l0.46 -0.53l0.31 -0.76l0.42 -0.6l2.02 -0.65l1.07 -0.85l1.17 -0.7l0.72 -0.14l0.8 -0.01l0.64 -0.27l0.75 -1.35l0.46 -0.55l1.21 -0.63l1.06 -0.88l0.59 -0.34l1.39 -0.33l0.61 -0.3l0.37 -0.71l0.28 -0.88l0.43 -0.63l0.63 -0.28l1.6 0.06l0.66 -0.2l1.07 -0.91l0.98 -1.12l0.64 -0.25l1.56 0.11l1.43 -0.15l0.65 -0.21l1.03 -1.04l0.59 -0.34l2.77 -0.48l0.64 -0.24l2.18 -1.78l0.58 -0.37l2.6 -0.87l0.94 -1.16l1.54 -1.48l0.63 -0.25l0.74 -0.06l1.64 0.23l0.77 0l0.67 -0.18l0.57 -0.37l1.03 -0.99l1.12 -0.8l0.66 -0.2l0.75 -0.02l0.66 -0.2l0.58 -0.36l0.56 -0.4l0.94 -1.19l0.52 -0.49l0.62 -0.28l0.7 -0.13l1.46 -0.1l0.57 -0.38l0.99 -1.08l0.62 -0.3l1.37 -0.28l1.03 -1l0.69 -0.15l0.78 0.06l0.7 -0.1l1.71 -1.19l2 -0.5l0.62 -0.29l1.71 -1.26l0.66 -0.2l0.7 -0.07l1.24 -0.6l0.68 -0.1l1.52 0.29l0.66 -0.19l1.13 -0.96l0.66 -0.17l0.71 -0.01l1.34 -0.25l1.39 -0.11l0.64 -0.24l0.58 -0.43l0.63 -0.27l2.05 -0.3l0.63 -0.26l1.19 -0.77l0.66 -0.17l2.09 -0.14l2.49 -1.18l1.32 -0.33l2.38 -1.5l0.66 -0.19l0.71 -0.02l0.66 -0.15l1.92 -0.74l0.7 -0.04l1.51 0.32l0.64 -0.24l1.13 -0.98l0.63 -0.29l2.04 -0.3l1.88 -0.85l2.56 -0.93l2.8 -0.13l1.91 -0.77l1.18 -0.74l1.89 -0.79l2.1 -0.18l1.19 -0.73l0.72 0.02l0.8 0.2l0.7 -0.06l0.57 -0.42l1.01 -1.23l0.65 -0.19l0.75 0.06l0.68 -0.14l1.76 -1.1l0.63 -0.27l0.76 0.1l0.84 0.27l0.72 -0.03l0.58 -0.37l0.54 -0.51l0.95 -1.31l0.62 -0.27l1.58 0.3l0.72 -0.04l0.57 -0.4l0.5 -0.59l0.59 -0.37l0.67 -0.15l0.62 -0.29l0.56 -0.46l0.63 -0.25l1.45 -0.01l1.26 -0.52l1.38 -0.2l0.66 -0.17l0.61 -0.3l1.55 -1.69l0.59 -0.36l1.53 0.18l0.66 -0.18l1.11 -0.88l0.59 -0.36l1.46 -0.02l1.33 -0.36l0.72 -0.05l0.66 -0.19l0.52 -0.51l0.89 -1.36l0.6 -0.32l1.5 0.02l1.21 -0.62l0.7 -0.12l0.76 0.02l0.63 -0.25l0.47 -0.61l0.55 -0.44l1.46 -0.08l1.98 -0.6l0.49 -0.56l0.79 -1.5l0.58 -0.37l1.42 -0.18l1.35 -0.34l0.61 -0.3l1.05 -0.94l0.61 -0.32l0.65 -0.23l1.43 -0.17l1.34 -0.35l0.53 -0.47l0.85 -1.4l0.54 -0.47l2.09 -0.34l1.17 -0.75l0.66 -0.2l1.41 -0.12l1.3 -0.43" stroke="#B3B3B3" stroke-width="1.9"/>
</g>
<line x1="47.56" y1="301.51" x2="332.13" y2="21.78" stroke="#000" stroke-width="1.25" stroke-dasharray="4.3 3.908" stroke-dashoffset="0.32"/>
<path d="M47.56 21.78V301.51H332.13" fill="none" stroke="#000" stroke-width="1.1"/>
<path d="M44.56 288.80H47.56M60.50 301.51V304.51M44.56 263.37H47.56M86.37 301.51V304.51M44.56 225.23H47.56M125.17 301.51V304.51M44.56 161.65H47.56M189.85 301.51V304.51M44.56 98.07H47.56M254.52 301.51V304.51M44.56 59.93H47.56M293.33 301.51V304.51M44.56 34.50H47.56M319.20 301.51V304.51" stroke="#000" stroke-width="1.1"/>
<text x="40.46" y="293.00" text-anchor="end" font-size="10.9">0.00</text>
<text x="60.50" y="316.81" text-anchor="middle" font-size="10.9">0.00</text>
<text x="40.46" y="267.57" text-anchor="end" font-size="10.9">0.10</text>
<text x="86.37" y="316.81" text-anchor="middle" font-size="10.9">0.10</text>
<text x="40.46" y="229.43" text-anchor="end" font-size="10.9">0.25</text>
<text x="125.17" y="316.81" text-anchor="middle" font-size="10.9">0.25</text>
<text x="40.46" y="165.85" text-anchor="end" font-size="10.9">0.50</text>
<text x="189.85" y="316.81" text-anchor="middle" font-size="10.9">0.50</text>
<text x="40.46" y="102.27" text-anchor="end" font-size="10.9">0.75</text>
<text x="254.52" y="316.81" text-anchor="middle" font-size="10.9">0.75</text>
<text x="40.46" y="64.13" text-anchor="end" font-size="10.9">0.90</text>
<text x="293.33" y="316.81" text-anchor="middle" font-size="10.9">0.90</text>
<text x="40.46" y="38.70" text-anchor="end" font-size="10.9">1.00</text>
<text x="319.20" y="316.81" text-anchor="middle" font-size="10.9">1.00</text>
<text x="189.85" y="333.71" text-anchor="middle" font-size="11">False positive fraction</text>
<text transform="translate(8.06 161.65) rotate(-90)" text-anchor="middle" font-size="11.12">True positive fraction</text>
<text x="224.97" y="149.60" font-size="11">Method (AUC)</text>
<line x1="226.47" y1="161.80" x2="239.97" y2="161.80" stroke="#66C2A5" stroke-width="2"/>
<text x="244.27" y="165.10" font-size="9.5">RSS−E (0.859)</text>
<line x1="226.47" y1="177.95" x2="239.97" y2="177.95" stroke="#FC8D62" stroke-width="2"/>
<text x="244.27" y="181.25" font-size="9.5">GATES (0.797)</text>
<line x1="226.47" y1="194.10" x2="239.97" y2="194.10" stroke="#8DA0CB" stroke-width="2"/>
<text x="244.27" y="197.40" font-size="9.5">VEGAS−max (0.794)</text>
<line x1="226.47" y1="210.25" x2="239.97" y2="210.25" stroke="#E78AC3" stroke-width="2"/>
<text x="244.27" y="213.55" font-size="9.5">VEGAS−10% (0.791)</text>
<line x1="226.47" y1="226.40" x2="239.97" y2="226.40" stroke="#A6D854" stroke-width="2"/>
<text x="244.27" y="229.70" font-size="9.5">VEGAS−20% (0.788)</text>
<line x1="226.47" y1="242.55" x2="239.97" y2="242.55" stroke="#FFD92F" stroke-width="2"/>
<text x="244.27" y="245.85" font-size="9.5">VEGAS−sum (0.778)</text>
<line x1="226.47" y1="258.70" x2="239.97" y2="258.70" stroke="#E5C494" stroke-width="2"/>
<text x="244.27" y="262.00" font-size="9.5">SimpleM (0.773)</text>
<line x1="226.47" y1="274.85" x2="239.97" y2="274.85" stroke="#B3B3B3" stroke-width="2"/>
<text x="244.27" y="278.15" font-size="9.5">COMBAT (0.772)</text>
<clipPath id="clipb"><rect x="399.06" y="21.78" width="284.57" height="279.73"/></clipPath>
<line x1="399.06" y1="301.51" x2="683.63" y2="21.78" stroke="#e6e6e6" stroke-width="1.1"/>
<g clip-path="url(#clipb)" fill="none" stroke-linejoin="round" stroke-linecap="butt">
<path d="M412.00 288.80l0.05 -129.92l0.38 -12.75l0.31 -3.47l0.08 -2.33l0.26 -2.3l0.18 -3.49l0.76 -3.41l0.3 -2.31l0.76 -3.39l1.08 -3.33l0.62 -4.63l0.21 -1.15l0.39 -1.1l2.42 -5.3l1.1 -2.05l1.08 -3.32l1.47 -1.88l0.33 -1.12l0.05 -1.26l0.24 -1.17l0.53 -1.03l1.61 -1.8l0.56 -1.01l0.34 -1.13l1.98 -4.22l1.53 -1.77l1.42 -1.84l0.85 -0.8l1.85 -1.46l1.62 -1.66l0.72 -0.91l1.14 -2.09l0.66 -0.96l1.91 -1.43l0.59 -1.03l0.34 -1.21l0.63 -0.98l1.52 -1.76l0.99 -0.7l1.1 -0.63l0.71 -0.91l0.55 -1.03l1.61 -1.66l0.63 -0.97l1.02 -2.18l0.63 -1.01l0.9 -0.75l2.13 -1.1l0.79 -0.84l0.5 -1.22l0.59 -1.12l1.02 -0.58l1.19 -0.37l1.03 -0.56l1.84 -1.41l1.01 -0.6l0.92 -0.69l3.5 -3.13l0.83 -0.86l1.03 -0.55l2.35 -0.62l2.06 -1.07l2.15 -0.89l0.89 -0.78l0.83 -0.92l0.96 -0.7l1.14 -0.33l1.19 -0.16l1.12 -0.31l3.23 -1.35l1.1 -0.38l1.14 -0.26l4.59 -0.74l3.5 -0.19l2.27 -0.45l3.46 -0.39l1.14 -0.2l4.52 -1.23l3.5 -0.01l2.32 -0.12l10.41 -0.83l4.64 -0.15l3.47 -0.26l11.59 -0.48l10.43 -0.32l16.24 -0.26l59.16 -0.61l42.91 -0.65" stroke="#66C2A5" stroke-width="1.9"/>
<path d="M412.00 288.80l0 -45.51l0.13 -15.17l0.97 -59.95l0.46 -6.49l0.04 -3.62l0.84 -4.26l0.01 -1.46l0.25 -1.42l0.05 -1.46l0.19 -1.44l0.84 -2.04l0.39 -2.13l0.05 -1.47l0.21 -0.69l0.86 -1.27l0.25 -0.67l-0.15 -1.55l0.15 -0.72l0.92 -1.2l0.21 -0.69l0.08 -0.74l0.23 -0.69l1.1 -1.87l1.95 -2.17l0.32 -0.63l0.7 -3.01l0.39 -0.63l0.57 -0.47l1.32 -0.76l0.46 -0.56l0.33 -1.71l0.46 -0.58l1.32 -0.72l1.43 -0.59l0.55 -0.47l0.83 -1.24l1.02 -1.04l0.69 -0.31l1.23 -0.78l1.49 -0.47l0.22 -0.86l0.11 -1l0.46 -0.57l1.37 -0.62l1.74 -1.3l0.88 -1.22l0.63 -0.37l1.62 -0.29l0.6 -0.4l0.5 -0.53l0.61 -0.39l0.75 -0.21l0.65 -0.33l1.94 -2.23l0.57 -0.44l1.3 -0.67l1.49 -0.36l1.11 -0.94l1.25 -0.71l0.47 -0.6l0.57 -0.45l3.27 -1.55l0.6 -0.4l1.56 -1.63l1.17 -0.88l0.72 -0.18l1.81 0.29l0.68 -0.25l0.91 -1.34l1.17 -0.89l1.36 -0.51l1.81 -1.21l1.14 -0.95l0.7 -0.22l1.5 -0.26l0.56 -0.48l0.41 -0.76l0.5 -0.6l1.17 -0.86l1.39 -0.47l1.2 -0.83l1.41 -0.44l0.66 -0.31l0.77 -0.07l0.84 0.07l0.59 -0.43l0.41 -0.82l0.56 -0.53l2.76 -0.92l0.56 -0.54l0.48 -0.73l0.63 -0.38l1.69 0.3l1.32 -0.58l1.49 -0.19l1.32 -0.59l1.47 -0.23l0.64 -0.34l1.74 -1.45l0.63 -0.34l1.41 -0.39l1.49 -0.22l0.67 -0.26l1.11 -1.07l1.88 -1.09l1.57 -0.04l0.65 -0.31l0.51 -0.63l0.59 -0.47l1.47 -0.22l0.65 -0.33l0.51 -0.65l0.58 -0.49l0.76 -0.06l2.39 0.13l0.67 -0.27l1.01 -1.37l0.64 -0.35l1.57 0.04l2.13 -0.5l0.66 -0.31l1.59 -1.86l0.61 -0.41l0.75 -0.07l1.75 0.5l0.72 -0.15l1.11 -1.14l0.66 -0.3l1.43 -0.28l1.34 -0.55l1.27 -0.74l2.1 -0.55l0.76 -0.02l0.82 0.14l0.74 -0.07l0.59 -0.51l0.52 -0.69l0.61 -0.44l0.66 -0.29l1.27 -0.75l0.77 0.01l0.85 0.23l0.76 -0.02l1.86 -1.24l2.08 -0.6l2.03 -0.78l0.73 -0.1l0.69 -0.21l1.83 -1.34l1.45 -0.23l0.67 -0.26l0.62 -0.43l0.68 -0.24l1.54 0.02l3.31 -1.48l2.2 -0.25l1.39 -0.39l0.63 -0.39l0.6 -0.52l0.65 -0.32l1.45 -0.22l1.39 -0.39l1.47 -0.15l1.26 -0.8l0.7 -0.19l1.47 -0.16l1.4 -0.36l0.67 -0.27l1.21 -0.95l0.67 -0.27l1.45 -0.23l2.77 -0.84l3.63 -0.42l1.35 -0.56l2.2 -0.12l1.35 -0.57l1.4 -0.34l1.95 -1.18l1.48 -0.01l1.4 -0.37l1.48 0.02l1.35 -0.57l2.11 -0.51l1.51 0.1l0.7 -0.21l1.23 -1.02l0.71 -0.14l2.97 -0.04l1.28 -0.83l0.68 -0.24l2.85 -0.53l1.35 -0.55l2.89 -0.34l1.39 -0.4l1.48 0.04l0.7 -0.15l2.04 -0.88l0.71 -0.16l1.46 -0.03l2.85 -0.49l1.44 -0.12l2.11 -0.54l2.2 0.06l2.11 -0.59l3.59 -0.33l2.14 -0.36l4.33 -0.26l4.31 -0.53l5.04 -0.41l5.78 -0.18l10.1 -0.49" stroke="#FC8D62" stroke-width="1.9"/>
<path d="M412.00 288.80l0 -44.75l0.19 -22.37l0.62 -36.8l0.16 -3.61l0.26 -12.26l-0.03 -2.89l0.27 -2.88l0.51 -3.58l0.09 -4.34l0.4 -1.4l0.56 -5.77l0.29 -0.68l0.84 -1.3l0.26 -0.68l0.09 -0.71l-0.2 -2.27l0.06 -0.74l0.21 -0.69l1.01 -1.21l0.32 -0.65l0.08 -0.73l-0.08 -1.56l0.31 -0.66l1.24 -1.06l0.32 -0.63l0 -1.58l0.44 -1.4l0.36 -0.64l1.07 -1.05l0.75 -2.12l1.5 -1.62l1.67 -2.42l0.71 -0.33l0.89 -0.14l0.74 -0.27l1.18 -0.83l0.83 -1.22l1.14 -0.89l1.37 -1.7l0.53 -0.49l0.41 -0.62l0.32 -0.74l0.48 -0.54l1.6 -1.47l1.25 -0.76l0.49 -0.54l0.87 -1.22l1.05 -1.01l0.69 -0.3l2.98 -0.89l0.67 -0.31l0.37 -0.69l0.26 -0.86l0.44 -0.62l1.86 -1.13l1.49 -0.4l0.56 -0.45l0.47 -0.59l0.58 -0.43l1.49 -0.36l0.57 -0.45l0.76 -1.49l0.8 -0.09l0.94 0.16l0.67 -0.28l0.76 -1.53l1.69 -1.42l0.81 -0.04l0.92 0.15l0.75 -0.13l1.75 -1.29l0.99 -1.21l0.68 -0.25l0.82 0l0.76 -0.12l0.61 -0.37l1.62 -1.59l0.64 -0.33l0.78 -0.05l0.73 -0.17l1.24 -0.74l1.47 -0.3l0.57 -0.48l0.89 -1.41l0.54 -0.52l0.7 -0.22l2.93 -0.62l0.67 -0.29l1.25 -0.71l2.36 -1.74l1.38 -0.45l1.44 -0.3l0.67 -0.29l1.23 -0.79l1.39 -0.41l0.66 -0.29l1.41 -0.37l0.63 -0.36l1.08 -1.16l0.7 -0.18l1.61 0.08l1.91 -1.05l1.79 -1.3l0.66 -0.29l0.74 -0.12l0.67 -0.26l0.58 -0.47l0.64 -0.35l1.45 -0.29l2.24 -2.06l0.61 -0.41l1.52 -0.15l1.44 -0.31l0.69 -0.22l1.3 -0.63l0.72 -0.14l1.53 -0.09l0.61 -0.4l0.95 -1.53l0.67 -0.27l0.78 0.02l2.22 -0.28l0.68 -0.24l1.9 -1.07l1.34 -0.54l1.23 -0.82l1.41 -0.37l2.94 -0.41l1.25 -0.76l1.36 -0.46l1.27 -0.74l1.46 -0.22l1.29 -0.67l2.01 -0.79l1.46 -0.22l2.66 -1.12l2.17 -0.37l2.02 -0.77l2.1 -0.58l1.96 -0.95l2.5 -1.59l0.68 -0.24l2.21 -0.23l0.7 -0.18l3.38 -1.28l2.23 -0.12l0.67 -0.28l1.21 -0.97l0.66 -0.3l1.48 -0.1l2.14 -0.42l1.33 -0.59l1.21 -0.96l0.68 -0.24l1.43 -0.26l1.32 -0.61l0.7 -0.19l2.23 -0.12l0.69 -0.21l1.32 -0.6l1.38 -0.44l1.27 -0.77l0.71 -0.16l0.75 0.01l0.71 -0.14l2.07 -0.65l1.29 -0.76l0.7 -0.18l2.94 -0.16l2.01 -0.9l0.72 -0.09l1.49 0.02l2.07 -0.65l1.44 -0.16l1.39 -0.41l0.67 -0.32l0.63 -0.46l0.67 -0.3l1.48 0l0.72 -0.11l4.93 -1.1l2.76 -0.89l2.02 -0.83l0.7 -0.16l4.33 -0.54l1.32 -0.7l0.69 -0.24l2.92 -0.12l2.11 -0.46l2.15 -0.29l2.08 -0.7l2.14 -0.34l4.35 -0.15l3.57 -0.56l2.12 -0.49l3.61 -0.21l7.17 -0.78l3.6 -0.29l2.88 -0.1l2.88 -0.28l10.1 -0.35" stroke="#8DA0CB" stroke-width="1.9"/>
<path d="M412.00 288.80l0.01 -49.75l0.48 -41.1l0.13 -7.21l0.19 -2.88l0.22 -11.54l0.19 -2.87l-0.02 -2.89l0.11 -1.44l0 -2.16l0.37 -7.21l0.61 -3.56l-0.05 -2.2l0.26 -0.69l0.4 -0.66l0.22 -0.7l-0.1 -1.48l0.34 -1.4l0.19 -2.17l0.76 -1.31l0.26 -0.68l0.14 -1.44l0.54 -1.35l0.18 -1.44l0.42 -1.38l0 -0.76l0.16 -0.71l1 -1.16l0.31 -0.65l0.07 -2.34l0.17 -0.73l0.32 -0.66l1.13 -1.05l0.47 -0.57l0.27 -0.68l0.4 -0.62l1.31 -0.84l0.75 -1.23l0.88 -1.13l0.58 -0.45l1.47 -0.59l0.57 -0.43l0.39 -0.61l0.38 -1.64l0.36 -0.66l1.25 -0.77l0.5 -0.53l0.68 -1.37l0.61 -0.41l0.83 -0.16l0.7 -0.3l1.04 -0.99l0.46 -0.57l0.64 -1.45l0.64 -0.37l0.74 -0.25l0.5 -0.52l0.29 -0.78l0.43 -0.6l1.52 -0.44l2.06 -2.04l1.21 -0.8l0.46 -0.58l0.54 -0.49l1.31 -0.66l1.2 -0.81l0.98 -1.1l0.67 -0.3l1.67 -0.12l0.58 -0.43l0.49 -0.55l1.81 -1.17l1.37 -0.52l0.55 -0.47l0.44 -0.67l0.52 -0.54l0.62 -0.36l1.41 -0.44l0.54 -0.5l0.44 -0.69l0.54 -0.51l0.62 -0.37l0.66 -0.3l2.92 -0.66l0.69 -0.24l0.55 -0.49l1.2 -0.82l0.95 -1.3l0.67 -0.27l0.83 0.02l0.75 -0.1l0.63 -0.36l1.6 -1.62l0.69 -0.24l1.59 -0.06l0.63 -0.34l0.96 -1.28l0.68 -0.26l2.93 -0.61l0.53 -0.54l0.84 -1.56l0.57 -0.47l0.73 -0.17l1.54 -0.12l1.45 -0.3l0.63 -0.36l1.09 -1.11l0.68 -0.24l1.64 0.16l1.22 -0.81l1.37 -0.46l0.62 -0.39l0.51 -0.64l0.57 -0.49l0.76 -0.06l0.82 0.06l0.69 -0.21l0.58 -0.47l0.52 -0.61l0.6 -0.41l1.48 -0.23l1.28 -0.66l1.34 -0.54l0.62 -0.39l1.08 -1.12l0.69 -0.22l3.7 -0.55l0.67 -0.28l1.04 -1.22l0.69 -0.22l0.76 -0.06l1.29 -0.65l1.47 -0.23l0.69 -0.21l1.21 -0.86l1.28 -0.68l1.21 -0.88l0.7 -0.18l2.57 0.63l0.68 -0.26l1.11 -1.1l1.28 -0.69l1.22 -0.84l0.71 -0.17l1.61 0.17l1.5 -0.11l0.59 -0.46l0.45 -0.85l0.51 -0.68l0.64 -0.37l1.42 -0.33l1.53 0l0.7 -0.18l1.26 -0.76l2.05 -0.69l1.29 -0.66l0.69 -0.23l0.77 0.02l0.73 -0.1l1.2 -0.92l0.65 -0.34l1.16 -1.03l0.77 0.02l0.85 0.22l0.79 0.07l0.71 -0.16l0.61 -0.43l1.08 -1.28l0.69 -0.19l0.79 0.05l0.71 -0.13l1.93 -1.06l0.6 -0.48l0.67 -0.26l1.52 -0.03l1.27 -0.76l0.71 -0.14l2.25 -0.07l2.1 -0.53l1.47 -0.14l0.68 -0.22l3.92 -1.99l1.4 -0.33l1.47 -0.15l1.27 -0.75l0.67 -0.27l1.54 0.09l0.71 -0.18l1.84 -1.33l1.34 -0.56l2.24 -0.09l0.69 -0.19l1.32 -0.64l1.38 -0.44l2.13 -0.4l2.19 -0.18l1.37 -0.44l1.41 -0.32l0.67 -0.29l1.26 -0.91l0.71 -0.14l0.77 0.13l1.61 0.53l0.72 -0.12l1.99 -0.97l1.42 -0.27l0.68 -0.25l1.96 -1.07l2.15 -0.31l1.37 -0.48l2.16 -0.29l0.68 -0.23l1.3 -0.75l0.69 -0.21l4.27 -0.8l1.38 -0.44l1.48 0.04l0.72 -0.11l1.35 -0.56l1.44 -0.19l1.37 -0.49l1.44 -0.17l1.39 -0.39l0.72 -0.08l1.48 0.1l0.72 -0.08l1.41 -0.32l4.27 -0.65l3.59 -0.34l5 -0.72l1.45 0.02l1.42 -0.33l2.15 -0.23l2.17 -0.03l2.86 -0.35l9.35 -0.63l5.05 -0.13l2.88 -0.19" stroke="#E78AC3" stroke-width="1.9"/>
<path d="M412.00 288.80l0.01 -50.43l0.46 -41.78l0.19 -7.92l0.24 -5.04l-0.01 -2.16l0.15 -2.16l0.17 -5.76l0.19 -2.15l-0.05 -2.89l0.08 -2.16l0.72 -7.89l0.23 -1.42l0.41 -1.39l-0.18 -2.22l0.65 -2.08l0.78 -3.51l0.12 -4.43l0.3 -0.67l0.83 -1.26l0.42 -2.15l0.15 -1.49l0.33 -0.65l0.57 -0.56l0.42 -0.61l0.29 -0.66l0.51 -0.56l0.68 -0.48l0.43 -0.57l0.24 -0.68l1.04 -1.04l0.19 -0.7l-0.06 -0.88l0.08 -0.8l1.19 -1.83l1.68 -0.5l0.6 -0.42l0.27 -0.71l0.24 -1.7l0.45 -0.57l1.19 -0.85l0.53 -0.49l0.64 -0.38l2.32 -0.71l0.26 -0.76l-0.11 -1.15l0.03 -1.01l0.36 -0.67l1.3 -0.73l1.04 -0.99l1.46 -0.54l1.16 -0.86l1.35 -0.64l0.52 -0.49l0.76 -1.33l0.51 -0.52l1.41 -0.55l0.55 -0.46l1 -1.06l1.18 -0.83l0.44 -0.6l0.33 -0.77l0.47 -0.58l1.96 -0.99l2.22 -1.88l2.04 -2.21l0.83 -0.04l0.95 0.16l0.85 0.01l2.35 -0.25l0.61 -0.38l0.49 -0.59l0.41 -0.72l0.52 -0.54l1.35 -0.54l0.49 -0.59l0.43 -0.73l0.57 -0.46l0.72 -0.17l0.66 -0.31l0.59 -0.41l2.19 -0.48l0.64 -0.33l1 -1.21l0.69 -0.24l0.85 0.08l0.76 -0.09l0.52 -0.57l0.44 -0.71l0.69 -0.23l0.9 0.17l0.8 0l0.55 -0.53l0.36 -0.87l0.45 -0.71l0.63 -0.33l1.47 -0.29l0.8 -0.02l0.67 -0.28l0.82 -1.58l0.65 -0.31l0.73 -0.15l0.66 -0.31l0.7 -0.2l1.56 -0.07l0.65 -0.3l1.18 -0.89l0.66 -0.29l1.42 -0.36l0.65 -0.29l1.23 -0.78l1.48 -0.22l2.1 -0.6l0.62 -0.38l1.1 -1.08l1.76 -1.35l1.35 -0.5l1.3 -0.63l0.76 -0.06l0.87 0.17l0.8 0.02l0.59 -0.44l0.43 -0.8l0.49 -0.66l0.62 -0.38l1.36 -0.5l1.43 -0.33l1.57 -0.01l0.73 -0.13l1.07 -1.15l0.59 -0.46l1.22 -0.82l0.66 -0.29l1.51 -0.12l1.24 -0.79l2.12 -0.51l1.18 -0.95l0.67 -0.25l0.69 -0.22l1.52 -0.06l0.65 -0.33l1.15 -1l0.66 -0.28l0.76 -0.05l1.6 0.14l0.64 -0.35l1.14 -1.05l1.24 -0.8l3.37 -1.28l1.31 -0.6l2.92 -0.43l0.67 -0.24l1.27 -0.74l0.66 -0.29l1.51 -0.05l0.72 -0.14l5.27 -2.38l1.42 -0.3l1.51 -0.05l3.08 -2.11l0.7 -0.17l0.75 -0.04l1.35 -0.52l1.46 -0.17l2.05 -0.7l1.43 -0.25l0.68 -0.26l0.62 -0.41l1.41 -0.31l0.68 -0.27l1.28 -0.73l0.7 -0.18l1.45 -0.19l1.3 -0.66l2.15 -0.36l0.67 -0.27l1.21 -0.96l0.69 -0.2l0.81 0.19l0.75 -0.01l0.65 -0.36l0.68 -0.23l1.54 0.1l0.72 -0.1l2.67 -1.13l2.14 -0.35l2 -0.9l1.93 -1.15l0.73 -0.05l0.77 0.08l2.12 -0.41l1.47 -0.05l1.39 -0.38l0.72 -0.09l0.7 -0.19l1.3 -0.74l1.48 -0.02l2.77 -0.8l1.31 -0.71l0.7 -0.15l2.23 0.01l0.72 -0.12l1.96 -1.06l2 -0.88l0.73 -0.07l1.54 0.23l2.8 -0.71l2.05 -0.69l0.72 -0.1l1.49 0.08l0.7 -0.16l4.1 -1.49l2.11 -0.5l1.44 -0.12l2.12 -0.44l2.9 -0.13l0.71 -0.1l1.39 -0.49l3.59 -0.31l2.13 -0.38l2.17 -0.08l1.41 -0.34l6.45 -0.65l3.59 -0.33l2.17 0.05l2.15 -0.26l2.16 -0.02l5.75 -0.43l5.04 -0.22" stroke="#A6D854" stroke-width="1.9"/>
<path d="M412.00 288.80l0.01 -85.97l0.2 -7.52l0.24 -4.29l0.41 -3.2l0.06 -3.23l0.21 -3.22l0.45 -4.27l0.06 -3.23l0.23 -2.14l0.39 -7.52l0.23 -2.14l1.38 -7.4l0.23 -3.26l0.35 -1.02l1.16 -1.92l0.29 -1.03l0.13 -1.08l0.31 -1.03l1.61 -3.98l0.57 -2.1l0.87 -1.98l1.49 -2.88l0.66 -0.87l1.71 -1.44l1.06 -1.87l2.31 -2.29l0.54 -0.94l0.83 -2.09l0.7 -0.82l2 -1.13l0.55 -0.94l0.34 -1.12l0.66 -0.85l1.79 -1.28l1.37 -1.66l1.55 -1.48l3.74 -3.89l2.58 -1.94l2.33 -2.29l2.9 -1.49l0.89 -0.61l1.66 -1.41l1.89 -1.04l1 -0.42l3.33 -0.64l0.93 -0.53l1.5 -1.74l0.98 -0.45l1.15 -0.12l1.05 -0.3l1.67 -1.46l1.88 -1.03l0.83 -0.75l0.75 -0.93l0.89 -0.64l2.32 -0.12l0.91 -0.61l0.81 -0.81l0.97 -0.46l2.3 -0.13l0.98 -0.44l0.89 -0.64l2.97 -1.27l1.87 -1.09l0.99 -0.41l2.08 -0.6l0.9 -0.62l0.84 -0.76l1.04 -0.31l1.22 0.09l1.07 -0.24l1.91 -1.01l1.8 -1.21l0.95 -0.51l2.07 -0.65l0.89 -0.63l0.96 -0.48l1.1 -0.19l0.95 -0.51l0.77 -0.89l0.85 -0.71l1.01 -0.39l2.14 -0.5l1.86 -1.09l1.02 -0.37l2.22 -0.25l1.02 -0.34l2.82 -1.63l2.04 -0.67l1.88 -1.09l3.11 -0.89l5.28 -1.26l1.96 -0.9l1.03 -0.31l0.91 -0.6l0.83 -0.84l0.9 -0.66l1.93 -0.97l1.03 -0.31l2.19 -0.3l1.05 -0.27l0.99 -0.4l1.9 -1.06l1.99 -0.81l3.14 -0.81l0.98 -0.46l1.82 -1.25l0.97 -0.5l1.04 -0.27l2.25 -0.07l1.08 -0.15l2.11 -0.43l0.99 -0.42l1.81 -1.44l0.97 -0.51l2.1 -0.48l2.06 -0.63l2.12 -0.38l3.1 -0.9l3.2 -0.52l1.95 -1.03l1.01 -0.37l2.18 -0.19l1.04 -0.26l1 -0.42l1.05 -0.23l1.09 -0.07l1.04 -0.27l1.94 -1.07l1.05 -0.22l2.26 0.1l1.06 -0.18l1.95 -1.04l1.01 -0.36l4.19 -1l1.01 -0.35l1.07 -0.18l1.11 0.01l1.08 -0.14l3.08 -0.96l1.95 -1.04l1.01 -0.37l2.11 -0.44l3 -1.25l1.05 -0.24l2.19 -0.13l3.17 -0.6l2.06 -0.64l2.11 -0.4l2.08 -0.54l7.41 -1.3l2.13 -0.27l4.22 -0.87l7.52 -0.51l1.06 -0.19l2.07 -0.75l1.07 -0.16l2.15 -0.07l5.35 -0.51l3.23 -0.1l6.43 -0.48" stroke="#FFD92F" stroke-width="1.9"/>
<path d="M412.00 288.80l0.08 -40.99l0.96 -36.77l0.01 -3.16l0.29 -5.25l0.04 -3.15l0.31 -4.19l-0.03 -3.17l0.83 -6.26l0.07 -2.1l0.82 -5.2l0.18 -2.09l0.6 -3.09l0.31 -3.15l0.5 -2.04l0.55 -3.11l1.24 -4.03l0.35 -2.09l0.28 -1.02l0.47 -0.96l1.1 -2.96l0.98 -1.87l0.69 -0.85l0.83 -0.76l0.65 -0.83l0.3 -1l0.11 -1.12l0.35 -0.99l1.58 -1.46l0.55 -0.87l0.8 -1.99l0.64 -0.82l0.84 -0.65l0.69 -0.77l0.6 -0.87l0.77 -0.71l3.43 -2.44l0.75 -0.74l1.11 -1.93l2.11 -2.34l0.77 -0.73l0.89 -0.59l1.04 -0.44l0.91 -0.57l2.09 -2.37l1.18 -1.8l6.87 -4.83l3.11 -2.82l0.87 -0.6l1.93 -0.89l1.63 -1.35l1.54 -1.48l0.96 -0.45l0.89 -0.56l1.35 -1.77l0.99 -0.4l1.14 -0.17l1.06 -0.29l0.83 -0.65l0.74 -0.8l0.83 -0.68l2.65 -1.74l3.02 -1.04l1.74 -1.22l0.92 -0.51l2.02 -0.62l2.9 -1.2l1.03 -0.24l0.93 -0.46l0.78 -0.81l0.93 -0.47l1.09 -0.09l0.99 -0.33l1.75 -1.14l0.97 -0.36l2.1 -0.35l0.94 -0.43l1 -0.32l1.06 -0.16l0.93 -0.46l1.49 -1.63l0.8 -0.71l1.66 -1.23l1.5 -1.53l0.91 -0.48l2.35 0l1.04 -0.25l1.78 -1.05l0.99 -0.33l1.84 -0.93l1.92 -0.79l1.55 -1.61l0.91 -0.53l2.21 -0.17l1.06 -0.21l2.95 -1.13l1.77 -1.21l1.84 -1.05l3.41 -2.67l0.94 -0.51l1.07 -0.22l2.06 -0.66l2.28 -0.23l0.93 -0.55l1.75 -1.28l1.65 -1.47l0.95 -0.5l2.11 -0.6l0.92 -0.54l0.85 -0.69l2.81 -1.59l1.8 -1.18l0.95 -0.5l2.99 -1.21l1.82 -1.15l0.95 -0.47l2.06 -0.63l1.98 -0.77l1.04 -0.25l1.1 -0.11l1.03 -0.27l2.83 -1.41l0.98 -0.38l2.19 -0.13l0.98 -0.38l0.89 -0.63l0.94 -0.5l2.11 -0.37l3.97 -1.44l2.89 -1.38l2.1 -0.4l0.99 -0.38l3.84 -1.92l0.99 -0.39l3.1 -0.76l2.99 -1.09l1.03 -0.25l2.12 -0.31l1.01 -0.31l1.9 -1.03l0.99 -0.38l3.03 -0.93l1.97 -0.75l2.16 -0.17l1.99 -0.68l2.04 -0.51l1.92 -0.9l2.14 -0.13l0.99 -0.34l0.96 -0.45l3 -0.93l3.08 -0.58l2.97 -1.1l1.03 -0.22l4.2 -0.27l7.2 -1.26l2.03 -0.54l1.04 -0.15l2.08 -0.22l2.11 -0.07l1.03 -0.17l3.04 -0.92l3.14 -0.29l3.11 -0.55l4.2 -0.33l3.1 -0.63l4.17 -0.5" stroke="#E5C494" stroke-width="1.9"/>
<path d="M412.00 288.80l0.03 -36.79l0.18 -10.51l0.72 -26.26l0.01 -3.15l0.18 -6.31l0.28 -4.2l0.08 -4.2l0.34 -3.14l0.09 -3.15l0.27 -4.2l0.27 -2.09l0.28 -4.2l0.67 -5.22l0.46 -2.05l0.29 -2.09l0.41 -2.06l0.64 -2.02l0.65 -3.09l0.81 -1.96l0.36 -2.08l1.22 -2.92l0.63 -2l0.87 -4.19l0.46 -0.96l0.62 -0.88l1.49 -1.6l0.65 -0.84l0.49 -0.92l0.61 -2.11l2 -2.47l0.73 -0.76l1.97 -1.02l1.46 -1.48l0.84 -0.63l1.85 -1.08l0.67 -0.83l1.16 -1.86l2.88 -3.07l1.34 -1.64l0.77 -0.72l0.69 -0.8l0.62 -0.87l0.76 -0.73l1.88 -1.08l2.39 -2.05l3.51 -2.31l0.79 -0.69l1.32 -1.74l2.59 -1.8l0.91 -0.53l1.02 -0.36l0.92 -0.51l0.85 -0.63l0.98 -0.43l1.1 -0.24l1.03 -0.35l0.73 -0.8l0.51 -1.12l0.62 -0.97l0.84 -0.64l1.98 -0.8l0.9 -0.54l1.57 -1.5l1.04 -0.3l1.16 -0.06l0.99 -0.36l1.65 -1.39l1.77 -1.16l2.88 -1.31l0.84 -0.66l0.92 -0.53l2.11 -0.45l1.97 -0.75l0.93 -0.5l0.81 -0.72l0.94 -0.48l2.13 -0.43l2.66 -1.74l1.88 -0.93l0.85 -0.65l0.78 -0.77l0.86 -0.62l1.99 -0.7l0.86 -0.61l0.96 -0.43l2.37 -0.13l1.13 -0.16l0.91 -0.53l0.67 -0.92l1.18 -2.12l0.84 -0.66l0.98 -0.42l1.77 -1.16l0.96 -0.46l2.21 -0.3l0.97 -0.4l4.49 -2.8l1 -0.35l2.21 -0.23l2.96 -1.11l0.95 -0.46l1.53 -1.69l0.97 -0.41l2.24 -0.16l0.98 -0.4l0.86 -0.64l1.51 -1.72l0.84 -0.69l0.93 -0.49l3.05 -0.94l1.92 -0.85l1.06 -0.21l0.99 -0.36l0.92 -0.53l4.99 -1.72l2.78 -1.48l1.95 -0.79l2.64 -1.85l0.97 -0.41l2.05 -0.55l2.99 -1.02l2.1 -0.38l0.95 -0.46l1.81 -1.14l2.87 -1.34l1.85 -1.11l1.02 -0.27l2.21 -0.03l2.98 -1.02l4.91 -1.94l3.05 -0.82l2.12 -0.21l1.03 -0.23l2.96 -1.14l1.04 -0.17l2.2 0.08l1.01 -0.29l1.91 -1.01l2.99 -0.98l2.11 -0.31l0.96 -0.45l0.87 -0.74l0.93 -0.53l2.14 -0.21l1.03 -0.24l1.94 -0.82l2.1 -0.32l3.01 -0.95l1.97 -0.77l1.01 -0.29l2.09 -0.32l3.05 -0.81l2 -0.66l2.08 -0.36l1.99 -0.72l3.04 -0.92l1.04 -0.16l2.15 0.01l2.11 -0.16l2.06 -0.38l2.03 -0.57l2.16 0.08l1.04 -0.14l3.03 -0.96l5.15 -1.03l2.04 -0.56l1.04 -0.19l3.14 -0.28l4.17 -0.59l5.22 -0.58" stroke="#B3B3B3" stroke-width="1.9"/>
</g>
<line x1="399.06" y1="301.51" x2="683.63" y2="21.78" stroke="#000" stroke-width="1.25" stroke-dasharray="4.3 3.908" stroke-dashoffset="0.32"/>
<path d="M399.06 21.78V301.51H683.63" fill="none" stroke="#000" stroke-width="1.1"/>
<path d="M396.06 288.80H399.06M412.00 301.51V304.51M396.06 263.37H399.06M437.87 301.51V304.51M396.06 225.23H399.06M476.68 301.51V304.51M396.06 161.65H399.06M541.35 301.51V304.51M396.06 98.07H399.06M606.02 301.51V304.51M396.06 59.93H399.06M644.83 301.51V304.51M396.06 34.50H399.06M670.70 301.51V304.51" stroke="#000" stroke-width="1.1"/>
<text x="391.96" y="293.00" text-anchor="end" font-size="10.9">0.00</text>
<text x="412.00" y="316.81" text-anchor="middle" font-size="10.9">0.00</text>
<text x="391.96" y="267.57" text-anchor="end" font-size="10.9">0.10</text>
<text x="437.87" y="316.81" text-anchor="middle" font-size="10.9">0.10</text>
<text x="391.96" y="229.43" text-anchor="end" font-size="10.9">0.25</text>
<text x="476.68" y="316.81" text-anchor="middle" font-size="10.9">0.25</text>
<text x="391.96" y="165.85" text-anchor="end" font-size="10.9">0.50</text>
<text x="541.35" y="316.81" text-anchor="middle" font-size="10.9">0.50</text>
<text x="391.96" y="102.27" text-anchor="end" font-size="10.9">0.75</text>
<text x="606.02" y="316.81" text-anchor="middle" font-size="10.9">0.75</text>
<text x="391.96" y="64.13" text-anchor="end" font-size="10.9">0.90</text>
<text x="644.83" y="316.81" text-anchor="middle" font-size="10.9">0.90</text>
<text x="391.96" y="38.70" text-anchor="end" font-size="10.9">1.00</text>
<text x="670.70" y="316.81" text-anchor="middle" font-size="10.9">1.00</text>
<text x="541.35" y="333.71" text-anchor="middle" font-size="11">False positive fraction</text>
<text transform="translate(359.56 161.65) rotate(-90)" text-anchor="middle" font-size="11.12">True positive fraction</text>
<text x="576.47" y="149.60" font-size="11">Method (AUC)</text>
<line x1="577.97" y1="161.80" x2="591.47" y2="161.80" stroke="#66C2A5" stroke-width="2"/>
<text x="595.76" y="165.10" font-size="9.5">RSS−E (0.953)</text>
<line x1="577.97" y1="177.95" x2="591.47" y2="177.95" stroke="#FC8D62" stroke-width="2"/>
<text x="595.76" y="181.25" font-size="9.5">GATES (0.858)</text>
<line x1="577.97" y1="194.10" x2="591.47" y2="194.10" stroke="#8DA0CB" stroke-width="2"/>
<text x="595.76" y="197.40" font-size="9.5">VEGAS−max (0.860)</text>
<line x1="577.97" y1="210.25" x2="591.47" y2="210.25" stroke="#E78AC3" stroke-width="2"/>
<text x="595.76" y="213.55" font-size="9.5">VEGAS−10% (0.858)</text>
<line x1="577.97" y1="226.40" x2="591.47" y2="226.40" stroke="#A6D854" stroke-width="2"/>
<text x="595.76" y="229.70" font-size="9.5">VEGAS−20% (0.856)</text>
<line x1="577.97" y1="242.55" x2="591.47" y2="242.55" stroke="#FFD92F" stroke-width="2"/>
<text x="595.76" y="245.85" font-size="9.5">VEGAS−sum (0.850)</text>
<line x1="577.97" y1="258.70" x2="591.47" y2="258.70" stroke="#E5C494" stroke-width="2"/>
<text x="595.76" y="262.00" font-size="9.5">SimpleM (0.823)</text>
<line x1="577.97" y1="274.85" x2="591.47" y2="274.85" stroke="#B3B3B3" stroke-width="2"/>
<text x="595.76" y="278.15" font-size="9.5">COMBAT (0.823)</text>
<clipPath id="clipc"><rect x="47.56" y="366.28" width="284.57" height="279.73"/></clipPath>
<line x1="47.56" y1="646.01" x2="332.13" y2="366.28" stroke="#e6e6e6" stroke-width="1.1"/>
<g clip-path="url(#clipc)" fill="none" stroke-linejoin="round" stroke-linecap="butt">
<path d="M60.50 633.30l0.1 -22.95l0.86 -17.72l0.4 -7.29l0.52 -6.24l1.6 -12.42l0.31 -3.12l1.12 -7.22l1.34 -6.11l0.31 -2.07l0.92 -3l1.28 -6.13l1.59 -4.98l0.39 -2.06l1.37 -5.03l0.62 -3.08l1.65 -6.04l0.3 -1l1.21 -2.9l0.79 -3.03l1.04 -2.95l1.2 -2.89l1.2 -4.02l0.38 -0.97l1.55 -2.74l1.16 -1.75l0.85 -1.9l0.6 -2.05l4.11 -7.27l1.18 -1.73l2.23 -2.29l1.24 -2.93l0.53 -0.89l1.31 -1.64l0.58 -0.87l1.69 -2.63l0.5 -0.92l1.19 -1.71l1.02 -1.84l0.59 -0.86l1.96 -2.46l2.23 -2.21l1.28 -1.66l1.69 -1.27l1.47 -1.47l1.62 -1.32l1.21 -1.76l0.69 -0.79l2.25 -2.19l2.44 -1.97l2.2 -2.23l1.82 -1.09l0.79 -0.68l1.31 -1.7l4.25 -3.04l1.93 -0.92l0.81 -0.66l1.49 -1.49l0.82 -0.64l1.69 -1.22l2.7 -1.6l1.68 -1.24l1.49 -1.53l0.81 -0.67l2.88 -1.3l2.62 -1.72l1.88 -0.92l2.71 -1.57l1.64 -1.32l0.88 -0.57l1.91 -0.87l2.51 -1.89l5.61 -2.81l1.78 -1.1l1.87 -0.92l1.71 -1.22l3.63 -2.07l1.92 -0.83l2.7 -1.62l2.01 -0.64l2.84 -1.32l2.91 -1.15l2.71 -1.67l0.98 -0.35l3.14 -0.56l11.69 -4.51l5.99 -1.8l3.05 -0.74l3.94 -1.38l3.04 -0.75l3.93 -1.45l3.01 -0.84l2.08 -0.33l1.01 -0.25l2.98 -0.97l8.09 -2.08l14.36 -2.71l4.13 -0.56l3.07 -0.61l6.23 -0.71l5.14 -0.89l3.13 -0.24l3.09 -0.5l11.4 -1.27l27.04 -2.24" stroke="#66C2A5" stroke-width="1.9"/>
<path d="M60.50 633.30l0.67 -2.97l0.14 -1.86l0.23 -0.57l0.8 -1.03l0.26 -0.55l0.32 -1.18l0.29 -1.86l0.26 -0.55l0.92 -0.92l0.34 -0.51l0.89 -3l0.3 -0.54l2.09 -2.28l1.39 -2.01l0.8 -0.93l0.69 -1.01l1.47 -1.16l1.59 -1.84l0.66 -1.04l1.28 -1.31l1.32 -2.08l1.35 -1.25l0.7 -1.01l1.53 -1.09l0.66 -1.04l0.47 -0.4l0.72 -1l0.91 -0.82l1.97 -2.33l0.46 -0.41l1.06 -0.66l0.8 -0.92l1.41 -1.19l1.56 -1.87l1.32 -1.27l0.66 -1.06l1.41 -1.18l0.68 -1.04l1.95 -2.35l1.35 -1.24l1.07 -0.65l0.43 -0.44l1.07 -1.52l0.45 -0.41l1.14 -0.57l0.45 -0.41l2.32 -2.86l0.89 -0.83l2.07 -2.23l0.7 -1.01l2.35 -1.98l1.15 -1.43l1.68 -0.94l2.05 -3.08l1.39 -1.2l0.64 -1.07l1.09 -1.48l1.34 -1.25l0.66 -1.05l1.09 -0.66l2.58 -2.59l1.45 -1.99l2.56 -2.61l0.78 -0.94l1.01 -0.72l1.12 -1.46l1.05 -0.68l0.44 -0.42l0.62 -1.1l0.39 -0.47l1.72 -0.87l0.47 -0.39l1.06 -1.53l1.03 -0.69l0.86 -0.87l1.95 -2.36l0.68 -1.03l1.48 -1.12l0.77 -0.95l0.89 -0.84l0.68 -1.03l1.49 -1.11l1.18 -1.4l1.02 -1.56l2.02 -1.43l1.23 -1.35l1.01 -0.72l1.33 -1.25l0.38 -0.48l0.53 -1.2l0.4 -0.47l2.07 -1.36l0.73 -1.01l0.47 -0.39l0.56 -0.29l0.43 -0.43l0.67 -1.07l1.18 -1.4l0.49 -0.37l1.22 -0.5l0.51 -0.35l1.23 -1.36l0.69 -1.04l0.43 -0.43l0.9 -0.82l1.05 -0.68l0.43 -0.42l0.68 -1.06l1.84 -1.6l1.65 -0.93l0.83 -0.9l0.92 -0.8l0.52 -1.21l0.34 -0.52l3.38 -3.52l0.91 -0.81l0.73 -0.99l0.85 -0.88l0.94 -0.79l1.13 -1.46l1.65 -0.93l1.69 -1.75l1.03 -0.68l1.42 -1.16l2.94 -3.11l1.43 -1.15l0.75 -0.98l0.96 -0.75l1.1 -0.61l0.49 -0.36l0.75 -0.99l2.23 -2.08l2.1 -2.22l1.01 -0.7l1.24 -1.36l0.75 -0.99l1.31 -0.36l0.59 -0.26l0.47 -0.38l1.17 -1.44l1.08 -0.61l0.42 -0.45l0.62 -1.16l0.44 -0.42l1.09 -0.6l2.46 -1.81l1.09 -0.61l0.75 -0.99l0.98 -0.74l0.64 -1.11l0.39 -0.47l1.1 -0.6l0.48 -0.38l2.97 -3.07l1.2 -0.51l1.15 -1.43l1.12 -0.56l0.47 -0.39l1.22 -1.39l1.08 -1.57l1.71 -0.79l0.94 -0.77l1.54 -1l1.84 -1.61l1.53 -1.03l1.19 -1.41l0.95 -0.77l1.29 -1.31l1.64 -0.9l0.42 -0.44l0.6 -1.17l0.4 -0.47l0.47 -0.39l1.2 -0.48l0.5 -0.35l1.2 -1.41l0.47 -0.38l1.14 -0.54l0.51 -0.35l3.55 -3.35l1.66 -0.87l0.47 -0.39l0.55 -1.25l0.37 -0.5l1.6 -0.94l0.89 -0.83l1.74 -0.76l0.99 -0.73l0.43 -0.42l0.74 -1.03l0.46 -0.4l1.16 -0.5l0.48 -0.38l0.66 -1.11l0.4 -0.49l1.06 -0.62l0.45 -0.41l0.34 -0.56l0.45 -0.41l0.58 -0.25l1.53 -1.02l1.13 -0.54l1.45 -1.11l1.06 -0.62l1.08 -1.59l3.01 -2.09l1.39 -1.19l1.54 -1l1.45 -1.12l0.42 -0.45l1.06 -1.57l1.57 -0.99l0.46 -0.4l0.37 -0.49l1.53 -1.06l0.57 -1.15l0.39 -0.47l1.59 -0.99l1.98 -2.34l1.31 -1.28l0.79 -0.95l1.55 -1.01l0.89 -0.84l1.08 -0.6l2.31 -1.99l1.05 -0.64l0.89 -0.84l0.52 -0.33l0.6 -0.22l0.5 -0.35l0.76 -1.01l0.97 -0.72l1.31 -1.29l1.71 -0.79l2.16 -2.18l1.06 -0.63l0.96 -0.75l0.77 -1l1.68 -0.81l2.2 -2.13l1.53 -1.01l0.45 -0.42" stroke="#FC8D62" stroke-width="1.9"/>
<path d="M60.50 633.30l0.79 -3.57l0.1 -1.24l0.78 -1.68l0.21 -1.22l0.77 -1.01l0.29 -0.53l0.64 -1.71l0.58 -1.07l0.45 -1.83l0.34 -0.52l2.14 -2.24l0.31 -1.27l0.25 -0.57l0.68 -1.03l0.41 -0.46l2.84 -2.39l0.68 -1.03l1.27 -1.31l0.59 -1.11l0.94 -0.79l0.41 -0.46l1.64 -2.61l1.7 -1.75l2.32 -2.01l1.77 -2.51l0.93 -0.79l3.41 -3.49l0.57 -1.15l0.36 -0.49l1.56 -1.05l0.38 -0.47l0.27 -0.58l0.41 -0.45l1.15 -0.6l1.73 -1.73l0.41 -0.45l0.53 -1.17l0.36 -0.49l1.67 -1.78l0.91 -0.81l0.76 -0.97l0.49 -0.37l1.2 -0.53l0.46 -0.39l0.37 -0.5l0.55 -1.18l0.8 -0.92l0.43 -0.44l1.04 -0.68l0.41 -0.45l0.97 -0.75l1.08 -1.5l1.4 -1.19l0.82 -0.91l2.22 -2.92l0.43 -0.43l1.53 -1.09l0.44 -0.42l1.46 -1.97l1.36 -1.24l0.77 -0.95l1.02 -0.72l0.53 -1.16l0.38 -0.48l1.31 -1.28l1.6 -1.84l0.92 -0.81l1.1 -1.48l1.38 -1.21l1.12 -1.46l0.95 -0.77l1.05 -1.53l1.84 -1.62l1.16 -0.57l0.42 -0.44l0.51 -1.2l1.34 -1.25l1.19 -1.4l1.39 -1.2l0.73 -0.99l0.64 -1.08l0.43 -0.44l1.23 -0.49l0.54 -0.33l0.37 -0.48l0.59 -1.14l0.47 -0.38l1.77 -0.84l0.45 -0.42l0.83 -1.74l0.35 -0.51l2.06 -2.24l2.24 -2.07l1.46 -1.14l0.34 -0.52l0.22 -0.64l0.37 -0.49l1.1 -0.63l0.43 -0.43l1.59 -1.86l0.66 -1.07l0.53 -0.33l0.66 -0.2l2.07 -1.36l1.83 -2.5l1.56 -1.01l1.09 -1.5l3.23 -2.81l0.59 -1.14l0.4 -0.46l0.98 -0.74l1.46 -1.99l0.42 -0.45l0.54 -0.31l1.24 -0.49l0.45 -0.41l1.56 -1.89l0.44 -0.42l1.06 -0.67l0.68 -1.04l1.15 -0.58l0.94 -0.78l0.35 -0.52l0.86 -1.72l0.7 -1.02l2.03 -1.42l2.58 -2.59l1.15 -1.45l0.54 -0.32l1.25 -0.45l0.5 -0.35l2.49 -2.7l1.39 -1.19l0.77 -0.96l1.1 -0.61l0.44 -0.42l0.59 -1.17l1 -0.71l0.82 -0.91l0.89 -0.83l1.1 -0.6l1.17 -1.43l2.02 -1.4l0.81 -0.93l0.97 -0.75l1.1 -1.51l0.84 -0.89l1.26 -0.42l0.52 -0.34l0.76 -0.97l1.45 -1.12l1.24 -1.36l1.8 -1.65l1.15 -0.53l1 -0.7l0.83 -0.92l0.53 -1.25l0.34 -0.53l0.53 -0.32l1.23 -0.45l0.5 -0.34l0.45 -0.42l1.05 -1.54l1.17 -0.55l0.48 -0.38l0.37 -0.5l0.45 -0.4l1.04 -0.68l1.93 -2.41l0.54 -0.31l1.19 -0.47l0.46 -0.4l0.78 -0.97l0.97 -0.74l0.78 -0.98l0.48 -0.38l1.22 -0.41l0.55 -0.29l0.47 -0.39l0.81 -0.94l1.02 -0.68l0.91 -0.82l1.04 -0.65l1.31 -1.29l1.05 -0.65l0.75 -1l0.84 -0.89l2.66 -1.59l0.45 -0.41l0.66 -1.1l2.29 -2.01l0.77 -0.97l1.14 -0.55l0.51 -0.35l0.85 -0.88l2.43 -1.84l0.83 -0.91l0.98 -0.73l1.09 -0.59l0.42 -0.46l0.7 -1.05l0.87 -0.87l0.51 -0.34l1.18 -0.48l2.66 -2.53l1.05 -0.65l0.86 -0.87l1.06 -0.62l0.9 -0.83l1.03 -0.67l1.26 -1.35l1.12 -0.55l0.48 -0.37l0.94 -0.78l0.84 -0.91l2.8 -2.35l0.48 -0.38l1.71 -0.78l0.98 -0.73l0.9 -0.82l1.55 -1.97l2.27 -1.08l2.17 -2.15l0.47 -0.39l1.1 -0.61l0.42 -0.44l0.62 -1.12l1.1 -0.62l0.99 -0.73l0.37 -0.49l0.55 -1.19l0.44 -0.41l1.07 -0.65l0.99 -1.63l0.8 -0.95l0.48 -0.38l1.77 -0.75l0.5 -0.35l0.85 -0.89l0.99 -0.71l1.8 -1.66l1.89 -1.54l0.48 -0.37l1.12 -0.55l0.47 -0.39l0.75 -1.02l0.48 -0.37l1.21 -0.43l0.52 -0.33l1.31 -1.3l1.51 -1.03l0.87 -0.87l1.42 -1.15l0.75 -1.02l0.46 -0.41l0.52 -0.32l1.32 -0.28l0.6 -0.23l0.39 -0.48l0.31 -0.6l0.42 -0.46l1.58 -0.94l1.4 -1.18" stroke="#8DA0CB" stroke-width="1.9"/>
<path d="M60.50 633.30l0.23 -1.2l1.21 -4.72l0.45 -1.14l0.42 -2.46l0.22 -0.57l1.65 -1.93l0.54 -1.09l0.59 -1.76l1.01 -1.53l0.56 -1.1l1.62 -1.84l1.02 -1.53l4.1 -4.52l2.15 -2.17l1.64 -2.62l1.4 -1.2l1.33 -2.08l0.46 -0.41l1.11 -0.63l0.43 -0.43l0.55 -1.17l1.38 -1.2l0.67 -1.05l1.46 -1.14l1.47 -1.96l2.37 -1.96l0.65 -1.06l2.57 -2.61l1.11 -1.46l1.43 -1.17l1.6 -1.83l1.51 -1.94l1.01 -0.72l0.83 -0.89l1.07 -0.65l0.48 -0.39l0.74 -0.99l1.64 -1.81l2.35 -1.97l0.55 -1.16l0.36 -0.49l0.99 -0.75l0.67 -1.03l1.35 -1.26l0.61 -1.09l0.75 -0.96l1.78 -1.68l1.1 -0.65l0.44 -0.43l0.34 -1.33l0.28 -0.57l0.52 -0.35l1.3 -0.47l0.43 -0.44l0.34 -0.51l1.22 -1.36l0.36 -0.49l0.57 -1.14l0.37 -0.49l0.88 -0.84l0.65 -1.06l0.92 -0.81l1.1 -0.65l0.47 -0.4l0.64 -1.06l0.43 -0.44l0.52 -0.35l0.8 -0.92l0.98 -0.75l0.42 -0.44l0.66 -1.06l1.89 -1.56l0.77 -0.95l1.01 -0.72l0.4 -0.46l0.54 -1.19l0.38 -0.47l0.93 -0.8l0.74 -0.98l1.03 -0.7l0.43 -0.43l0.66 -1.06l0.48 -0.38l1.28 -0.46l0.36 -0.5l0.47 -1.24l0.32 -0.54l0.44 -0.43l1.11 -0.62l1.7 -1.75l0.71 -1.01l0.46 -0.4l1.07 -0.66l1.13 -1.46l0.94 -0.78l1.23 -1.35l1.14 -1.45l1.58 -1.01l0.44 -0.42l1.01 -1.58l1.4 -1.19l0.79 -0.93l1.97 -1.47l0.44 -0.43l0.63 -1.11l0.41 -0.44l1.68 -0.91l0.36 -0.49l0.51 -1.23l0.36 -0.5l1.49 -1.1l1.67 -0.91l0.48 -0.38l0.7 -1.03l0.82 -0.9l0.97 -0.76l0.86 -0.86l1.15 -0.57l0.46 -0.4l0.78 -0.95l1.76 -2.56l2.26 -2.05l1.72 -1.73l1.66 -0.93l0.4 -0.46l1.02 -1.57l1.22 -1.36l0.73 -1l1.46 -1.13l1.57 -1.89l1.53 -1.04l0.43 -0.43l0.75 -0.99l1.11 -0.6l1.22 -0.46l0.48 -0.38l2.3 -2.92l1.16 -0.53l0.48 -0.38l4.65 -4.86l0.97 -0.74l0.34 -0.54l0.52 -1.23l0.51 -0.35l1.25 -0.44l0.82 -0.91l2.75 -1.5l0.46 -0.39l0.88 -1.79l0.43 -0.43l1.19 -0.48l2.03 -1.38l0.87 -0.86l1.15 -1.47l2.96 -2.17l0.85 -0.88l1.84 -1.61l1.1 -1.5l1.02 -0.69l0.77 -0.96l1.81 -1.64l3 -2.11l1.32 -1.28l0.79 -0.96l0.98 -0.73l0.88 -0.87l2.67 -1.53l0.78 -0.97l0.45 -0.41l1.05 -0.64l0.88 -0.85l1.56 -1l0.45 -0.41l0.68 -1.07l0.42 -0.45l1.13 -0.56l0.92 -0.8l2.02 -1.4l0.68 -1.08l0.41 -0.46l1.61 -0.92l0.44 -0.42l1.01 -0.71l0.42 -0.44l0.55 -1.24l0.4 -0.48l2.13 -1.24l2 -1.42l1.3 -1.3l1.09 -0.59l0.77 -0.99l0.86 -0.88l0.47 -0.39l1.57 -0.96l0.79 -0.97l0.49 -0.36l1.17 -0.48l0.51 -0.34l0.81 -0.94l0.47 -0.4l0.52 -0.32l1.22 -0.43l0.51 -0.32l1.24 -1.39l0.73 -1.05l2.67 -1.53l0.51 -0.34l0.83 -0.91l0.49 -0.37l1.13 -0.53l0.46 -0.41l0.72 -1.06l1.61 -0.9l0.96 -0.76l1.23 -1.4l2.99 -2.11l0.84 -0.9l1.13 -1.47l1.51 -1.05l2.34 -1.97l0.67 -1.06l0.42 -0.45l1.1 -0.61l1 -0.71l1.72 -1.74l1.54 -1l2.01 -2.36l0.49 -0.36l1.12 -0.55l0.9 -0.83l2.05 -1.33l1.37 -1.22l1.26 -1.35l1.67 -0.84l0.93 -0.79l1.49 -1.07l0.87 -0.87l1.11 -1.55l0.44 -0.43l0.53 -0.31l1.24 -0.39l0.56 -0.27l1.37 -1.23l4.43 -3.23" stroke="#E78AC3" stroke-width="1.9"/>
<path d="M60.50 633.30l0.36 -1.79l0.72 -2.34l0.25 -1.19l0.65 -1.71l0.14 -1.24l1.9 -3.83l0.5 -1.8l0.28 -0.55l0.83 -0.93l0.31 -0.53l0.66 -1.77l0.4 -0.47l0.61 -0.32l0.47 -0.41l0.59 -1.08l1.52 -1.92l1.25 -1.34l1.08 -1.48l1.21 -1.37l1.82 -1.67l0.98 -1.56l1.65 -1.8l0.69 -1.02l3.51 -3.4l1.58 -1.86l0.67 -1.05l0.41 -0.45l1.37 -1.22l1.64 -0.96l0.44 -0.43l1.23 -2.19l1.62 -1.83l0.95 -0.78l0.79 -0.94l0.92 -0.8l0.59 -1.11l0.44 -0.44l0.56 -0.31l0.45 -0.41l0.61 -1.1l0.4 -0.47l1.39 -1.2l0.99 -0.73l2.49 -2.68l1.44 -1.15l0.39 -0.47l0.98 -1.61l1.52 -1.07l1.05 -1.53l1.44 -1.16l1.34 -2.07l0.56 -1.14l0.39 -0.46l1.14 -0.63l0.97 -0.77l1.62 -1.82l1.35 -2.06l0.93 -0.81l0.65 -1.05l0.52 -0.36l1.28 -0.49l0.38 -0.48l0.45 -1.24l0.36 -0.49l1.34 -1.26l1.21 -1.37l0.99 -0.75l1.06 -1.51l1.53 -1.07l1.15 -1.43l1.02 -0.72l0.37 -0.49l0.51 -1.19l0.37 -0.5l1.36 -1.23l1.49 -1.1l1.14 -1.44l1.28 -1.31l1.17 -1.41l1.88 -1.58l0.8 -0.92l0.48 -0.39l0.74 -0.98l1.22 -1.37l2.27 -2.05l0.83 -1.72l0.5 -0.38l1.29 -0.45l0.48 -0.39l1.29 -1.29l0.75 -0.97l0.91 -1.67l1.96 -1.5l1.36 -1.23l2.4 -2.78l1.61 -0.97l0.36 -0.5l0.58 -1.15l0.41 -0.46l0.61 -0.25l0.72 -0.13l0.58 -0.27l1.15 -1.45l0.64 -1.1l1.62 -0.95l1.74 -2.59l0.44 -0.42l2.17 -1.27l1.09 -1.5l2.35 -1.96l1.23 -1.36l1.01 -0.72l1.08 -1.5l1.29 -1.3l0.94 -0.78l0.61 -1.13l0.79 -0.93l1.4 -1.18l1.19 -1.41l1.05 -0.67l1.42 -1.16l1.61 -1.86l1.58 -0.98l0.4 -0.47l0.63 -1.11l0.43 -0.44l1.17 -0.53l0.45 -0.41l0.75 -0.99l0.98 -0.73l0.75 -1l1.23 -0.46l0.49 -0.36l0.66 -1.09l0.99 -0.73l1.84 -1.59l1.58 -0.99l1.05 -1.56l1.14 -1.47l0.97 -0.75l0.68 -1.06l0.46 -0.4l1.23 -0.47l2.31 -1.99l1.57 -0.98l1.52 -1.98l0.48 -0.38l1.63 -0.9l1.01 -0.7l2.34 -1.96l1.07 -1.55l0.53 -0.33l0.62 -0.22l0.51 -0.35l0.8 -0.93l0.98 -0.74l1.35 -2.11l0.4 -0.46l2.47 -1.84l1.07 -0.64l0.34 -0.53l0.24 -0.66l0.39 -0.48l1.21 -0.45l0.52 -0.34l1.78 -1.67l2.05 -1.34l0.89 -0.85l1.02 -0.67l0.86 -0.88l2.54 -1.72l0.89 -0.83l0.52 -0.34l0.62 -0.21l0.5 -0.36l0.59 -1.17l0.44 -0.44l1.42 -1.15l1.69 -0.84l0.5 -0.36l1.15 -1.46l1.51 -1.05l1.34 -1.25l0.79 -0.95l1.47 -1.09l1.56 -1.94l0.47 -0.4l2.19 -1.18l1.69 -1.78l1.55 -1l1.35 -1.24l1.55 -0.99l0.79 -0.97l1.14 -0.53l0.5 -0.34l0.95 -0.77l1.26 -1.36l1.19 -0.45l1.82 -1.63l1.14 -0.52l0.51 -0.34l1.06 -1.62l0.41 -0.47l0.51 -0.35l1.73 -0.75l0.5 -0.34l0.8 -0.96l1.58 -0.96l1.76 -1.71l0.76 -0.99l0.48 -0.38l0.59 -0.23l1.37 -0.25l0.62 -0.22l0.47 -0.4l1.13 -1.5l0.87 -0.86l0.74 -1l1.01 -0.7l0.43 -0.43l1.13 -1.47l0.9 -0.83l0.37 -0.5l0.43 -0.43l1.65 -0.91l2.48 -2.73l1.63 -0.9l1.3 -1.3l3.9 -2.93l0.83 -0.93l0.93 -0.79l1.57 -0.96l1.2 -0.45l0.4 -0.48l0.62 -1.19l1.68 -0.82l1.43 -1.14l3.01 -2.08l1.07 -0.61l2.83 -2.32l1.95 -1.47" stroke="#A6D854" stroke-width="1.9"/>
<path d="M60.50 633.30l0.76 -3.58l0.62 -1.73l0.72 -2.97l0.74 -1.68l0.29 -1.2l0.42 -1.16l0.31 -0.54l0.91 -0.9l0.36 -0.5l0.74 -1.68l2.55 -3.43l0.91 -1.61l1.66 -1.8l0.53 -1.14l0.39 -0.48l1.08 -0.69l0.44 -0.42l0.66 -1.04l1.13 -1.44l1.75 -1.72l0.38 -0.48l0.83 -1.69l0.5 -0.37l0.66 -0.24l0.51 -0.37l0.53 -1.16l1.26 -1.32l1.06 -1.52l2.15 -2.17l1.45 -1.15l0.39 -0.46l0.66 -1.05l0.9 -0.84l0.76 -0.95l0.94 -0.8l0.82 -0.91l1 -0.74l0.42 -0.44l1.7 -2.57l2.17 -2.16l0.6 -1.1l0.73 -1l1.76 -1.69l1.6 -1l0.45 -0.41l1.72 -1.74l0.67 -1.05l0.81 -0.91l1.67 -0.94l0.46 -0.4l0.79 -0.95l1.49 -1.13l0.89 -1.66l1.01 -1.54l1.28 -1.32l1 -1.55l0.9 -0.83l0.63 -1.07l0.85 -0.88l1.04 -0.71l0.41 -0.46l0.25 -0.59l0.36 -0.5l1.16 -0.6l0.43 -0.43l0.89 -1.66l0.95 -0.79l0.31 -0.54l0.21 -0.63l0.39 -0.48l1.07 -0.67l1.45 -1.15l0.48 -1.22l0.75 -0.97l0.96 -0.77l1.23 -1.36l2.26 -2.07l2 -2.3l1.02 -0.71l1.15 -1.44l0.88 -0.85l1.11 -1.48l0.45 -0.41l1.04 -0.68l0.8 -0.93l0.94 -0.79l0.68 -1.04l0.92 -0.8l0.69 -1.03l1.62 -0.98l1.67 -1.78l1.11 -1.47l2.7 -2.49l0.39 -0.47l1.43 -1.15l0.49 -1.25l0.8 -0.92l0.46 -0.41l1.76 -0.81l0.47 -0.39l1.87 -2.46l1.51 -1.07l0.75 -0.98l1.43 -1.15l1.07 -1.53l0.41 -0.45l1.76 -0.82l0.92 -0.8l0.41 -0.46l0.75 -1.84l0.37 -0.51l0.46 -0.4l1.55 -1.03l1.33 -1.26l1.1 -1.49l1.08 -0.65l0.78 -0.94l2.21 -2.1l1.51 -1.08l2.25 -2.93l1.93 -1.52l0.4 -0.46l0.63 -1.1l0.38 -0.48l2.04 -1.41l0.68 -1.06l0.45 -0.42l1.99 -1.44l1.07 -0.64l0.46 -0.4l1.15 -1.46l1.47 -1.1l1.25 -1.34l1.57 -1l1.34 -1.25l1.23 -1.37l1.5 -1.07l3.37 -3.55l1.53 -1.03l1.14 -1.47l1.54 -1.03l0.92 -0.8l1.01 -0.7l1.07 -1.55l0.88 -0.85l1.21 -1.4l1.74 -0.78l0.68 -1.1l0.42 -0.44l1.09 -0.6l0.45 -0.41l0.77 -0.98l1.35 -1.22l0.51 -0.34l1.23 -0.46l1.25 -1.34l1.42 -1.17l0.75 -0.97l1.08 -0.64l0.77 -0.96l0.63 -1.12l0.44 -0.43l1.08 -0.63l0.85 -0.89l1.03 -0.66l1.35 -1.24l1.08 -0.61l0.89 -0.84l2.55 -1.69l0.73 -1.05l0.49 -0.36l1.2 -0.46l1.9 -1.54l1.37 -1.21l0.69 -1.07l1.68 -0.86l0.46 -0.39l0.74 -1.01l1.94 -1.49l1.61 -1.88l1.93 -1.49l2.13 -1.26l0.44 -0.43l1.07 -1.57l0.46 -0.4l2.56 -1.7l1.64 -0.88l1.26 -1.35l0.74 -1.04l0.47 -0.39l1.1 -0.58l0.98 -0.72l1.13 -0.53l0.9 -0.84l0.98 -0.73l0.77 -0.99l1.1 -0.57l0.42 -0.46l0.66 -1.14l0.52 -0.32l1.92 -0.51l0.57 -0.26l0.89 -0.84l0.77 -1.01l0.44 -0.43l2.61 -1.61l1.39 -1.19l2.54 -1.7l0.67 -1.13l0.44 -0.43l1.06 -0.62l1.32 -1.27l1.98 -1.43l3.32 -2.7l0.43 -0.43l1.13 -1.47l1 -0.72l0.71 -1.03l2.17 -1.23l1.27 -1.33l1.07 -0.62l1.33 -1.27l1.69 -0.8l0.47 -0.39l1.24 -1.39l2.04 -1.35l0.88 -0.86l0.5 -0.35l0.44 -0.42l0.7 -1.1l0.45 -0.42l0.52 -0.33l1.82 -0.63l1.58 -0.93l0.47 -0.39l1.08 -1.61l0.46 -0.41l2.6 -1.62l0.97 -0.74l1.14 -0.5l0.51 -0.34l2.35 -1.96" stroke="#FFD92F" stroke-width="1.9"/>
<path d="M60.50 633.30l1.18 -4.73l0.29 -1.83l0.84 -2.3l0.6 -1.07l0.37 -1.18l0.3 -0.54l1.63 -1.88l0.77 -1.66l0.73 -0.98l0.61 -1.05l2.37 -2.78l0.88 -1.64l0.37 -0.49l1.01 -0.73l0.43 -0.44l0.63 -1.06l0.91 -0.83l1.42 -1.99l1.22 -1.37l0.97 -0.77l0.42 -0.44l0.33 -0.52l1.39 -1.21l0.59 -1.11l1.04 -0.7l0.41 -0.44l0.37 -0.49l0.51 -1.2l0.39 -0.47l1.08 -0.65l1.3 -1.28l1.14 -1.45l0.45 -0.41l1.56 -1.03l0.7 -1.03l1.02 -0.7l0.45 -0.42l2.23 -2.92l1.05 -1.52l1.06 -0.68l0.88 -0.84l0.77 -0.95l1.52 -1.06l0.43 -0.43l1.88 -2.45l1.52 -1.05l2.04 -2.27l1.02 -0.71l0.83 -0.89l1.06 -0.68l0.38 -0.47l0.55 -1.16l1.8 -1.66l0.88 -1.67l0.38 -0.48l0.49 -0.38l1.23 -0.52l0.54 -0.33l1.43 -2l1.31 -1.27l0.92 -1.64l1.83 -1.64l1.11 -1.46l0.63 -1.08l0.44 -0.42l1.14 -0.6l0.42 -0.45l1.63 -2.63l0.75 -0.97l0.42 -0.44l2.56 -1.79l1.4 -1.19l0.43 -0.43l0.91 -1.66l0.42 -0.45l3.01 -2.16l0.38 -0.49l0.59 -1.13l0.39 -0.47l1.05 -0.68l0.84 -0.88l0.51 -0.35l2.41 -2.76l1.41 -1.17l0.82 -0.91l0.99 -0.73l1.3 -1.3l1.85 -2.44l0.67 -1.05l1.6 -1l1.59 -1.85l0.93 -0.8l1.09 -1.49l0.43 -0.43l1.81 -1.63l1.47 -1.11l0.78 -0.96l0.93 -1.66l1.1 -0.62l0.48 -0.38l0.81 -0.92l2.06 -1.37l1.43 -2.02l5.61 -4.73l0.41 -0.45l0.66 -1.07l0.93 -0.79l1.73 -1.72l1.5 -1.94l0.91 -0.82l1.5 -1.08l0.43 -0.44l0.62 -1.1l0.48 -0.38l1.15 -0.57l0.48 -0.38l1.08 -1.51l0.43 -0.43l0.99 -0.74l1.15 -1.44l0.87 -0.85l0.48 -0.38l1.11 -0.59l0.47 -0.4l0.71 -1.02l1.99 -2.34l1.84 -1.61l1.11 -0.58l1.5 -1.07l1.41 -2.07l2.19 -1.22l0.49 -0.37l1.02 -1.59l0.41 -0.46l3.05 -2.08l0.83 -0.89l1.13 -1.48l0.95 -0.77l0.73 -1l0.47 -0.4l1.27 -0.4l1.09 -0.6l0.45 -0.41l1.09 -1.54l0.42 -0.45l0.95 -0.76l1.09 -0.6l0.45 -0.41l0.77 -0.97l1.05 -0.65l0.82 -0.92l0.95 -0.77l0.78 -0.95l0.48 -0.38l1.15 -0.55l1.25 -1.34l1.09 -0.63l1.05 -1.54l1.07 -0.64l0.43 -0.43l0.68 -1.06l1.35 -1.23l1.25 -1.36l1.03 -0.67l1.17 -0.48l1.4 -1.18l1.06 -0.62l0.46 -0.4l1.11 -1.55l1.47 -1.08l1.11 -0.57l0.39 -0.48l0.31 -0.59l0.4 -0.46l1.69 -0.83l0.93 -0.79l1.57 -0.99l1.54 -1.94l0.43 -0.43l0.99 -0.72l1.78 -1.67l1.59 -0.95l1.17 -1.45l2.63 -1.6l0.45 -0.42l0.71 -1.05l0.42 -0.45l1.1 -0.58l0.46 -0.4l0.74 -1.02l1.36 -1.22l1.21 -0.45l0.47 -0.39l0.38 -0.5l1.02 -0.67l1.33 -1.27l1.04 -0.65l1.87 -1.56l1.28 -1.32l0.93 -0.8l0.51 -0.33l1.22 -0.43l0.55 -0.29l2.62 -2.58l1.86 -1.57l0.43 -0.44l0.72 -1.05l0.99 -0.71l0.84 -0.9l0.47 -0.39l1.12 -0.55l1.35 -1.23l1.6 -0.94l1.32 -1.26l0.95 -0.77l1.23 -1.37l0.46 -0.39l1.73 -0.84l1.13 -1.46l2.32 -1.99l0.55 -1.18l1.07 -1.53l0.45 -0.42l1.97 -1.46l1.11 -0.58l1.3 -1.3l1.62 -0.9l0.48 -0.38l1.59 -1.9l0.47 -0.39l2.12 -1.26l2.2 -2.12l1.55 -0.99l0.87 -0.85l0.99 -0.73l1.34 -1.25l1.07 -0.61l0.82 -0.93l1.01 -0.68l1.22 -1.4l1.48 -1.08l0.93 -0.8l1.62 -0.89l0.95 -0.76" stroke="#E5C494" stroke-width="1.9"/>
<path d="M60.50 633.30l0.46 -2.4l0.33 -1.17l1.17 -2.82l1.1 -3.48l0.75 -1.66l1.04 -1.52l0.26 -0.55l0.28 -1.25l0.24 -0.58l0.46 -0.43l1.14 -0.69l1.19 -1.38l0.38 -0.47l1.01 -2.31l0.38 -0.48l1.06 -0.69l0.42 -0.45l1.04 -1.52l1.35 -1.25l0.67 -1.03l0.88 -0.84l0.74 -0.98l0.99 -0.75l0.77 -0.95l1.37 -1.22l0.39 -0.46l0.49 -1.2l0.36 -0.51l2.56 -1.75l0.43 -0.44l0.61 -1.11l0.39 -0.47l2.76 -2.4l0.36 -0.51l0.26 -0.6l0.39 -0.48l0.98 -0.74l0.77 -0.95l1.5 -1.1l0.89 -0.83l1.51 -1.93l0.63 -1.07l0.42 -0.45l1 -0.73l2.9 -3.13l0.46 -0.4l1.06 -0.65l2.31 -1.99l0.97 -1.63l1.89 -1.56l1.12 -0.6l0.51 -1.2l1.01 -1.56l0.49 -0.38l0.61 -0.26l0.52 -0.35l0.78 -0.94l1.76 -1.69l1.53 -1.9l1.4 -1.2l0.84 -0.88l0.64 -1.07l0.4 -0.46l1 -0.73l1.17 -1.41l0.7 -1.02l0.98 -0.75l1.07 -1.5l0.91 -0.82l1.51 -1.08l1.84 -1.62l1.67 -2.61l1.57 -1.87l2.78 -2.39l0.81 -0.92l1.45 -1.13l0.79 -0.93l1.41 -1.17l0.41 -0.45l0.93 -1.66l1.21 -1.38l1.53 -1.05l1.29 -1.3l0.4 -0.46l1.01 -1.57l1.1 -0.63l0.46 -0.4l0.32 -0.53l0.22 -0.64l0.37 -0.49l0.57 -0.3l0.46 -0.4l0.35 -0.51l0.91 -0.82l0.49 -0.37l1.17 -0.56l0.4 -0.45l0.58 -1.14l0.36 -0.51l1.21 -1.38l1.08 -0.63l0.79 -0.94l1.1 -0.61l0.46 -0.4l1.14 -1.45l0.66 -1.07l1.77 -1.68l1.13 -0.58l0.94 -0.78l0.41 -0.46l0.65 -1.07l0.89 -0.84l0.78 -0.95l1.17 -0.54l0.49 -0.38l0.36 -0.49l0.91 -1.69l0.43 -0.43l0.51 -0.35l2.29 -1.15l0.4 -0.45l0.6 -1.14l0.75 -0.96l1.83 -1.62l0.39 -0.47l0.58 -1.15l3.03 -2.14l0.37 -0.49l0.69 -1.89l0.46 -0.4l1.16 -0.57l0.43 -0.43l1.08 -1.51l4.07 -2.8l1.04 -1.57l0.45 -0.41l1.52 -1.04l0.91 -0.82l1.25 -1.34l2.29 -2l0.71 -1.04l0.49 -0.36l1.73 -0.82l0.47 -0.38l1.5 -1.98l2.31 -1.99l0.65 -1.1l0.39 -0.47l2.87 -1.37l1.19 -1.41l2.34 -1.95l1.1 -1.52l1.12 -0.56l1.5 -1.06l0.68 -1.08l2.86 -2.28l1.28 -1.31l1.4 -1.17l1.13 -1.46l0.47 -0.39l1.13 -0.58l0.45 -0.42l0.6 -1.13l0.39 -0.47l1.57 -1l2.81 -2.35l1.03 -0.65l1.32 -1.29l0.96 -0.74l0.83 -0.92l2.15 -1.2l1.24 -1.38l0.99 -0.72l1.36 -1.21l1.14 -0.55l0.76 -0.98l1.82 -1.62l0.79 -0.95l2.48 -1.79l0.88 -0.85l1.41 -1.16l0.8 -0.94l0.48 -0.38l1.71 -0.8l0.5 -0.36l1.2 -1.4l1.76 -1.7l1.68 -0.84l1.28 -1.32l0.5 -0.36l1.11 -0.56l0.45 -0.42l0.67 -1.09l0.97 -0.74l0.83 -0.91l1 -0.71l0.46 -0.4l0.38 -0.49l0.47 -0.38l1.18 -0.5l1.22 -1.38l2.42 -1.86l1.26 -1.34l3.04 -2.06l3.98 -3.79l2.75 -1.45l1.16 -1.48l1.9 -1.52l1.74 -1.71l2.01 -1.43l0.38 -0.48l0.61 -1.12l0.87 -0.85l1.11 -1.47l2.9 -2.27l0.65 -1.09l1.54 -1.03l0.42 -0.44l0.66 -1.1l0.44 -0.42l1.15 -0.53l1.48 -1.09l0.45 -0.4l0.81 -0.95l0.47 -0.38l1.09 -0.59l0.47 -0.39l0.82 -0.92l1.73 -0.77l0.47 -0.4l0.64 -1.13l0.44 -0.43l1.03 -0.66l1.43 -1.14l1.32 -1.27l1.4 -1.18l1.28 -1.32l0.53 -0.32l1.2 -0.45l0.45 -0.41l0.79 -0.97l1.05 -0.64l1.32 -1.28l1.06 -0.62l0.98 -0.72" stroke="#B3B3B3" stroke-width="1.9"/>
</g>
<line x1="47.56" y1="646.01" x2="332.13" y2="366.28" stroke="#000" stroke-width="1.25" stroke-dasharray="4.3 3.908" stroke-dashoffset="0.32"/>
<path d="M47.56 366.28V646.01H332.13" fill="none" stroke="#000" stroke-width="1.1"/>
<path d="M44.56 633.30H47.56M60.50 646.01V649.01M44.56 607.87H47.56M86.37 646.01V649.01M44.56 569.72H47.56M125.17 646.01V649.01M44.56 506.15H47.56M189.85 646.01V649.01M44.56 442.57H47.56M254.52 646.01V649.01M44.56 404.43H47.56M293.33 646.01V649.01M44.56 379.00H47.56M319.20 646.01V649.01" stroke="#000" stroke-width="1.1"/>
<text x="40.46" y="637.50" text-anchor="end" font-size="10.9">0.00</text>
<text x="60.50" y="661.31" text-anchor="middle" font-size="10.9">0.00</text>
<text x="40.46" y="612.07" text-anchor="end" font-size="10.9">0.10</text>
<text x="86.37" y="661.31" text-anchor="middle" font-size="10.9">0.10</text>
<text x="40.46" y="573.92" text-anchor="end" font-size="10.9">0.25</text>
<text x="125.17" y="661.31" text-anchor="middle" font-size="10.9">0.25</text>
<text x="40.46" y="510.35" text-anchor="end" font-size="10.9">0.50</text>
<text x="189.85" y="661.31" text-anchor="middle" font-size="10.9">0.50</text>
<text x="40.46" y="446.77" text-anchor="end" font-size="10.9">0.75</text>
<text x="254.52" y="661.31" text-anchor="middle" font-size="10.9">0.75</text>
<text x="40.46" y="408.63" text-anchor="end" font-size="10.9">0.90</text>
<text x="293.33" y="661.31" text-anchor="middle" font-size="10.9">0.90</text>
<text x="40.46" y="383.20" text-anchor="end" font-size="10.9">1.00</text>
<text x="319.20" y="661.31" text-anchor="middle" font-size="10.9">1.00</text>
<text x="189.85" y="678.22" text-anchor="middle" font-size="11">False positive fraction</text>
<text transform="translate(8.06 506.15) rotate(-90)" text-anchor="middle" font-size="11.12">True positive fraction</text>
<text x="224.97" y="494.10" font-size="11">Method (AUC)</text>
<line x1="226.47" y1="506.30" x2="239.97" y2="506.30" stroke="#66C2A5" stroke-width="2"/>
<text x="244.27" y="509.60" font-size="9.5">RSS−E (0.830)</text>
<line x1="226.47" y1="522.45" x2="239.97" y2="522.45" stroke="#FC8D62" stroke-width="2"/>
<text x="244.27" y="525.75" font-size="9.5">GATES (0.540)</text>
<line x1="226.47" y1="538.60" x2="239.97" y2="538.60" stroke="#8DA0CB" stroke-width="2"/>
<text x="244.27" y="541.90" font-size="9.5">VEGAS−max (0.544)</text>
<line x1="226.47" y1="554.75" x2="239.97" y2="554.75" stroke="#E78AC3" stroke-width="2"/>
<text x="244.27" y="558.05" font-size="9.5">VEGAS−10% (0.550)</text>
<line x1="226.47" y1="570.90" x2="239.97" y2="570.90" stroke="#A6D854" stroke-width="2"/>
<text x="244.27" y="574.20" font-size="9.5">VEGAS−20% (0.552)</text>
<line x1="226.47" y1="587.05" x2="239.97" y2="587.05" stroke="#FFD92F" stroke-width="2"/>
<text x="244.27" y="590.35" font-size="9.5">VEGAS−sum (0.553)</text>
<line x1="226.47" y1="603.20" x2="239.97" y2="603.20" stroke="#E5C494" stroke-width="2"/>
<text x="244.27" y="606.50" font-size="9.5">SimpleM (0.539)</text>
<line x1="226.47" y1="619.35" x2="239.97" y2="619.35" stroke="#B3B3B3" stroke-width="2"/>
<text x="244.27" y="622.65" font-size="9.5">COMBAT (0.538)</text>
<clipPath id="clipd"><rect x="399.06" y="366.28" width="284.57" height="279.73"/></clipPath>
<line x1="399.06" y1="646.01" x2="683.63" y2="366.28" stroke="#e6e6e6" stroke-width="1.1"/>
<g clip-path="url(#clipd)" fill="none" stroke-linejoin="round" stroke-linecap="butt">
<path d="M412.00 633.30l0.02 -53.18l0.29 -59.83l0.38 -13.29l0.33 -6.64l0.34 -4.42l1.28 -9.89l0.81 -4.36l2.02 -7.51l1.85 -4.04l3.08 -5.87l0.9 -2.04l0.61 -0.93l1.47 -1.68l0.65 -0.89l0.63 -0.91l1.11 -1.93l0.67 -0.88l1.51 -1.63l1.32 -1.78l2.15 -2.53l1.29 -1.82l1.68 -1.46l2.2 -2.5l2.34 -2.38l0.86 -0.7l1.9 -1.2l1.75 -1.36l2.44 -2.26l0.88 -0.68l8.24 -5.63l2.89 -1.64l3.75 -2.38l0.98 -0.51l2.04 -0.89l2.96 -1.51l6.08 -2.71l1.03 -0.39l2.19 -0.51l1.05 -0.36l7.08 -3.18l2.16 -0.56l1.04 -0.39l5.06 -2.26l4.24 -1.32l4.1 -1.72l4.24 -1.29l3.25 -0.78l5.22 -1.85l3.01 -1.47l3.21 -0.9l4.17 -1.49l4.26 -1.24l4.12 -1.64l3.21 -0.9l2.17 -0.46l8.42 -2.79l3.26 -0.69l2.13 -0.61l3.27 -0.59l5.33 -1.54l3.26 -0.66l3.23 -0.8l3.28 -0.54l3.25 -0.71l4.36 -0.79l10.96 -1.66l6.54 -1.16l4.4 -0.55l11.01 -1.25l22.06 -2.12l5.53 -0.35l12.18 -0.47l17.72 -0.45" stroke="#66C2A5" stroke-width="1.9"/>
<path d="M412.00 633.30l0.52 -9.35l0.57 -5.59l0.34 -2.48l0.42 -1.83l0.61 -3.69l1.46 -5.43l0.76 -1.72l0.35 -1.2l0.57 -1.12l0.46 -1.83l0.94 -2.33l0.34 -0.53l0.86 -0.95l0.29 -0.55l0.34 -1.26l0.56 -1.13l2.8 -3.4l1.04 -1.57l0.88 -2.38l0.8 -0.98l0.3 -0.55l0.36 -1.22l0.3 -0.55l1.35 -2.11l0.56 -1.12l2.53 -4.3l0.73 -1.02l0.81 -1.7l0.76 -0.99l0.87 -1.68l0.77 -0.98l0.67 -1.06l2.25 -2.22l0.86 -1.7l1.96 -3.2l0.37 -0.51l1 -0.82l0.38 -0.49l3.19 -4.63l1.67 -1.86l0.36 -0.52l0.55 -1.15l0.9 -0.88l1.33 -2.14l0.4 -0.47l1.53 -1.16l0.4 -0.49l0.57 -1.15l0.37 -0.51l0.95 -0.83l0.71 -1.04l0.96 -0.82l0.77 -0.98l1.55 -1.12l2.35 -2.94l2.28 -2.13l1.06 -0.71l0.43 -0.45l0.68 -1.09l1.45 -1.2l2.12 -2.3l1.12 -0.64l0.5 -0.38l2.09 -2.33l1.57 -1.06l0.86 -0.91l0.97 -0.79l2.5 -2.83l1.14 -0.59l0.49 -0.39l1.86 -1.68l0.99 -0.76l1.33 -1.33l1.68 -0.91l1.25 -1.42l0.95 -0.81l1.21 -1.46l1.61 -1l0.49 -0.4l0.84 -0.92l3.42 -2.74l2.52 -2.78l2.76 -2.54l1.45 -1.2l0.77 -1l0.97 -0.79l3.45 -3.63l3.97 -3.03l0.93 -0.85l2.58 -1.75l0.81 -1.01l0.47 -0.4l2.63 -1.71l0.97 -0.78l1.56 -1.05l1.67 -1.94l0.53 -0.32l1.82 -0.71l0.91 -0.86l1.07 -0.66l0.87 -0.92l0.94 -0.82l3.55 -2.56l1.92 -1.61l3.66 -2.4l0.92 -0.85l2.03 -1.46l1.33 -1.35l1.92 -1.61l1.63 -0.94l0.95 -0.81l2.09 -1.38l1.4 -1.26l1.1 -0.61l1.96 -1.56l1.77 -0.76l0.47 -0.41l0.74 -1.09l0.43 -0.46l3.7 -2.37l1.46 -1.17l1.33 -1.35l1.78 -0.75l0.54 -0.32l1.31 -1.37l1.54 -1.08l2.32 -2.1l0.5 -0.38l1.64 -0.94l1.21 -1.49l0.54 -0.32l1.8 -0.75l0.53 -0.34l0.47 -0.41l1.25 -1.44l1.44 -1.2l1.07 -0.65l1.5 -1.12l1.81 -1.77l1.65 -0.91l2.05 -1.42l1.15 -0.53l0.5 -0.37l0.89 -0.93l1.12 -0.57l1 -0.74l2.27 -1.11l0.51 -0.35l1.37 -1.33l1.68 -0.85l1.44 -1.22l1.83 -0.63l0.56 -0.29l1.42 -1.24l1.09 -0.61l1.51 -1.12l1.11 -0.58l0.97 -0.81l1.13 -0.55l1.06 -0.66l0.61 -0.21l0.54 -0.31l0.81 -1.05l0.97 -0.8l1.07 -0.65l1.13 -0.54l3.62 -2.45l2.19 -1.23l1.93 -1.6l1.69 -0.84l1.44 -1.22l2.6 -1.73l3.28 -1.83l0.5 -0.37l1.83 -1.77l2.1 -1.37l1.15 -0.51l1.06 -0.65l1.25 -0.36l0.5 -0.38l0.8 -1.08l2.37 -0.93l2.07 -1.4l2.73 -1.52l2.46 -1.94l2.05 -1.43l0.55 -0.31l1.18 -0.46l0.54 -0.33l0.91 -0.89l0.5 -0.37l0.59 -0.24l1.31 -0.25l0.58 -0.26l1.25 -1.54l0.56 -0.3l1.2 -0.41l3.77 -2.21l2.25 -1.09" stroke="#FC8D62" stroke-width="1.9"/>
<path d="M412.00 633.30l0.59 -10.59l0.33 -3.1l0.89 -6.18l0.59 -2.42l0.13 -1.25l0.62 -2.43l0.44 -1.17l0.88 -3l0.84 -1.68l0.46 -1.16l0.99 -1.6l0.42 -1.18l1.5 -2.71l0.81 -1.7l1.68 -2.63l1.13 -1.5l1.34 -2.12l0.3 -0.54l0.34 -1.24l0.29 -0.56l1.19 -1.48l0.32 -0.54l0.81 -2.39l0.52 -1.14l1.16 -1.5l0.71 -1.75l1.72 -2.61l0.78 -0.98l0.66 -1.06l1.18 -1.47l1.09 -2.29l0.36 -0.51l1.51 -1.21l1.85 -2.51l1.98 -3.19l1.56 -1.18l0.92 -1.64l0.89 -0.9l0.56 -1.13l1.7 -2.62l2.12 -2.3l1.05 -1.56l1.65 -1.87l1.04 -1.57l4.54 -4.3l0.4 -0.48l0.65 -1.11l0.45 -0.43l1.13 -0.64l0.45 -0.43l0.39 -0.49l1.37 -1.27l1.59 -1.95l3.32 -2.84l1.58 -1.96l0.47 -0.41l1.64 -0.99l1.09 -1.57l0.45 -0.44l1.46 -1.18l1.07 -0.67l1.86 -1.66l0.42 -0.46l1.04 -1.67l0.44 -0.44l1.7 -0.89l1.02 -0.74l1.41 -1.22l1.09 -0.64l0.93 -0.83l1.6 -1.98l1.6 -1l1.35 -1.31l1.5 -1.12l1.34 -1.31l2.16 -1.33l1.07 -1.61l1.27 -1.37l1.01 -0.75l0.79 -0.98l0.97 -0.79l1.26 -1.38l1.84 -1.69l1.11 -1.55l1.29 -1.36l1.18 -0.58l0.48 -0.4l0.77 -1l1.16 -0.58l0.48 -0.39l0.76 -1.02l1.34 -1.33l0.5 -0.37l1.7 -0.87l1.29 -1.4l0.48 -0.39l1.6 -0.99l0.91 -0.86l0.52 -0.35l3.21 -1.96l0.9 -0.87l1.24 -1.47l0.5 -0.37l1.68 -0.89l0.96 -0.8l1.05 -0.67l1.99 -1.5l1.35 -1.33l1.66 -0.9l0.81 -1l0.49 -0.39l1.19 -0.49l0.53 -0.33l0.94 -0.82l0.54 -0.33l0.91 -0.87l3.03 -2.19l0.94 -0.82l3.14 -2.06l1.4 -1.25l1 -0.74l1.31 -1.37l1.54 -1.07l1.1 -0.61l1.56 -1.04l1.49 -1.13l1.35 -1.32l1.66 -0.91l0.49 -0.39l0.42 -0.48l2.39 -2l1.15 -0.56l2.17 -1.26l0.94 -0.83l0.76 -1.06l0.44 -0.45l1.19 -0.5l0.5 -0.36l1.25 -1.46l1.7 -0.85l0.89 -0.89l1.07 -0.66l1.48 -1.14l1.56 -1.04l1.34 -1.33l2.38 -2.01l1.63 -0.96l2.39 -2.01l4.17 -2.74l0.91 -0.88l2.65 -1.65l1.43 -1.24l2.15 -1.26l1.16 -0.5l1.41 -1.27l1.07 -0.63l1.77 -0.73l0.51 -0.36l2.33 -2.12l0.53 -0.34l1.2 -0.44l1.44 -1.21l2.73 -1.53l1.46 -1.18l1.71 -0.82l1.48 -1.15l1.68 -0.85l1.84 -1.74l2.21 -1.19l2.97 -2.28l1.12 -0.58l1.5 -1.11l2.17 -1.25l1.34 -1.36l1.66 -0.89l1.42 -1.24l0.52 -0.34l2.23 -1.15l0.51 -0.37l1.35 -1.35l2.04 -1.43l5.45 -3.06l2.04 -1.45l1.37 -1.32l0.52 -0.35l1.17 -0.48l2.23 -1.16l5.46 -4.17l1.66 -0.89l1.04 -0.69l3.33 -1.73l0.52 -0.35l0.94 -0.85l5.5 -2.95" stroke="#8DA0CB" stroke-width="1.9"/>
<path d="M412.00 633.30l0.7 -11.84l0.37 -3.73l0.73 -3.68l0.21 -1.87l0.64 -3.06l0.52 -1.8l0.77 -1.73l0.42 -1.83l0.89 -3l0.76 -1.72l2.05 -3.16l0.69 -1.75l2.54 -4.31l1.33 -1.38l1.74 -4.05l0.65 -1.07l0.8 -0.98l0.32 -0.54l1.23 -2.88l2.37 -3.68l0.9 -2.38l1.27 -1.41l0.6 -1.1l0.77 -0.99l0.64 -1.08l0.81 -0.95l2.23 -3.02l0.93 -1.64l1.81 -1.77l1.89 -2.49l1.17 -2.22l1.71 -1.85l1.39 -2.07l1.25 -2.19l1.58 -1.94l0.71 -1.03l0.41 -0.48l1.11 -0.69l0.46 -0.43l1.4 -2.09l0.78 -0.98l0.41 -0.47l1.45 -1.21l1.78 -2.61l1.7 -0.96l0.96 -0.81l0.65 -1.12l0.43 -0.45l0.99 -0.78l1.29 -1.35l1.53 -2.01l0.48 -0.4l1.16 -0.61l0.9 -0.85l1.01 -0.76l0.43 -0.45l1.08 -1.59l0.42 -0.46l2.01 -1.51l1.08 -1.59l1.09 -0.66l0.73 -1.06l0.45 -0.43l1.64 -0.98l1.38 -1.26l1.07 -0.68l2.38 -2.02l1.02 -0.73l2.72 -2.58l1.02 -0.73l1.34 -1.31l1.76 -0.84l0.46 -0.42l1.54 -2.02l1 -0.77l1.28 -1.36l1.94 -1.59l1.7 -1.84l1.04 -0.72l4.28 -4.55l1.41 -1.24l0.84 -0.93l1.42 -1.22l0.75 -1.03l0.45 -0.44l1.13 -0.6l1.34 -1.32l2.69 -1.65l0.94 -0.82l0.85 -0.94l1.63 -0.95l1.39 -1.27l1.08 -0.64l1.39 -1.27l2.54 -1.81l1.9 -1.63l4.68 -3.13l0.91 -0.86l0.83 -0.98l0.49 -0.39l1.17 -0.51l2.92 -2.36l2.22 -1.2l0.5 -0.38l1.24 -1.46l2.29 -1.12l0.94 -0.82l1.32 -1.37l2.66 -1.65l0.49 -0.39l0.87 -0.91l1.73 -0.83l1.24 -1.46l0.49 -0.38l2.57 -1.79l1.91 -1.61l2.71 -1.59l0.42 -0.48l0.34 -0.59l0.45 -0.45l1.12 -0.59l1.31 -1.37l1.28 -0.37l0.56 -0.3l1.31 -1.37l1 -0.75l0.89 -0.89l0.53 -0.34l1.18 -0.51l0.53 -0.34l1.87 -1.65l1.34 -1.34l2.02 -1.47l1.14 -0.57l1.56 -1.05l0.48 -0.4l0.81 -0.99l0.46 -0.42l1.03 -0.7l0.91 -0.87l1.1 -0.62l1.54 -1.06l0.49 -0.38l0.87 -0.94l3.62 -2.46l2.38 -0.93l2.46 -1.93l1.42 -1.26l1.64 -0.92l0.96 -0.8l1.53 -1.09l1.63 -0.93l1 -0.74l1.16 -0.51l1.44 -1.23l1.67 -0.87l1.53 -1.09l1.12 -0.56l0.97 -0.8l1.6 -0.97l0.48 -0.4l1.64 -0.92l1.37 -1.32l0.54 -0.32l1.23 -0.4l1.13 -0.57l1.89 -1.67l1.07 -0.64l1.14 -0.53l0.99 -0.77l2.09 -1.37l0.95 -0.82l1.13 -0.56l1.48 -1.16l1.21 -0.43l1.41 -1.27l1.7 -0.82l1.6 -0.97l1.36 -1.34l0.53 -0.33l1.74 -0.76l0.97 -0.81l2.09 -1.37l1.67 -0.85l0.5 -0.39l0.88 -0.94l0.51 -0.36l1.73 -0.77l2.06 -1.42l1.26 -0.34l2.16 -1.26l0.97 -0.8l0.9 -0.91l1.52 -1.09l2.8 -1.42l1.49 -1.16l1.64 -0.9l1.54 -1.09l3.38 -1.62l2.2 -1.18" stroke="#E78AC3" stroke-width="1.9"/>
<path d="M412.00 633.30l0.67 -11.85l0.76 -5.57l1.47 -7.34l0.16 -1.26l0.14 -0.61l1.36 -2.85l0.41 -1.83l0.44 -1.17l0.89 -1.66l0.33 -1.22l1.36 -2.82l1.4 -2.07l0.9 -1.65l1.39 -2.07l0.99 -1.59l0.57 -1.12l0.71 -1.03l0.73 -1.74l1.04 -1.57l0.88 -1.65l0.34 -1.24l0.29 -0.55l0.82 -0.98l0.88 -1.65l0.73 -1.02l0.78 -1.72l1.42 -2.06l0.7 -1.78l0.9 -0.9l1.22 -0.67l0.42 -0.47l1.03 -2.33l0.32 -0.54l0.85 -0.92l1.54 -1.97l0.66 -1.07l1.14 -1.49l1.2 -2.21l1.33 -1.36l0.93 -1.64l0.77 -0.98l0.58 -1.12l1.39 -1.3l1.55 -1.95l0.35 -0.52l0.55 -1.17l0.39 -0.49l1.5 -1.18l1.94 -2.45l1.87 -1.68l1.7 -1.81l1.42 -2.11l2.27 -2.14l0.72 -1.04l0.85 -0.92l1.46 -1.2l0.8 -0.96l1.19 -0.57l0.78 -0.99l1.46 -1.19l1.99 -2.43l2.79 -2.5l1.29 -1.38l2.58 -1.8l3.36 -2.79l0.87 -0.9l1.1 -0.64l2.75 -2.55l1.98 -1.52l1.1 -0.64l0.44 -0.46l0.63 -1.17l0.43 -0.47l1.05 -0.69l0.8 -0.98l0.52 -0.35l1.34 -1.31l2.39 -2.02l1.16 -1.49l0.99 -0.78l2.72 -2.58l1.5 -1.15l0.43 -0.45l0.97 -1.68l1.54 -1.11l3.99 -3.97l1.71 -0.89l1.29 -1.37l0.5 -0.38l1.68 -0.89l0.93 -0.84l1.3 -1.39l1.61 -0.97l1.46 -1.18l1.57 -1.02l1.29 -1.41l1.06 -0.67l1.15 -0.55l0.88 -0.91l1.5 -1.11l1.6 -0.99l1.91 -1.62l2.5 -1.87l0.92 -0.86l2.66 -1.65l1.38 -1.29l3.03 -2.2l1.15 -0.56l0.53 -0.33l0.44 -0.45l1.06 -0.68l1.78 -1.78l2.92 -2.36l1.18 -0.5l1.44 -1.2l1.14 -0.57l1.29 -1.4l1.02 -0.73l0.93 -0.84l2.54 -1.81l1.09 -0.64l2.37 -2.04l1.19 -0.5l0.52 -0.34l1.23 -1.48l1.09 -0.63l2.03 -1.45l3.94 -3.08l0.92 -0.85l1.7 -0.87l1.04 -0.69l1.33 -1.35l1.58 -1.03l0.46 -0.41l0.87 -0.91l0.99 -0.78l0.84 -0.95l0.53 -0.33l1.21 -0.47l0.52 -0.34l2.29 -2.17l1.68 -0.87l1.59 -0.98l1.45 -1.21l2.76 -1.49l0.92 -0.87l2.53 -1.84l1.07 -0.65l2.83 -1.38l0.52 -0.34l1.37 -1.33l1.09 -0.61l3.09 -2.12l1.71 -0.8l0.92 -0.89l2.13 -1.3l1.89 -1.68l1.16 -0.5l1.99 -1.52l1.63 -0.94l1 -0.75l1.2 -0.44l0.53 -0.34l2.99 -2.27l2.74 -1.51l6.21 -4.19l1.72 -0.8l0.48 -0.41l0.82 -1.04l0.53 -0.32l1.85 -0.58l0.56 -0.29l0.87 -0.96l0.52 -0.34l4.39 -2.41l0.83 -1.02l0.5 -0.38l1.23 -0.39l0.56 -0.29l0.96 -0.81l2.73 -1.54l2.6 -1.73l1.1 -0.6l2.05 -1.43l1.1 -0.59l2.1 -1.35l1 -0.75l2.79 -1.44l0.99 -0.78l0.55 -0.31l2.33 -0.92l1.1 -0.6" stroke="#A6D854" stroke-width="1.9"/>
<path d="M412.00 633.30l0.27 -5.61l0.4 -5.61l0.57 -5.59l0.66 -3.7l0.42 -1.82l0.17 -1.25l0.59 -2.43l0.79 -1.72l0.15 -1.27l1.21 -3.55l1.01 -2.3l1.02 -1.59l1.11 -2.24l0.76 -1l0.85 -1.67l0.68 -1.05l0.71 -1.76l0.36 -0.51l0.93 -0.9l1.4 -2.79l0.87 -0.95l0.26 -0.57l0.3 -1.25l0.25 -0.58l1.07 -1.55l1.25 -2.17l0.7 -1.75l0.32 -0.54l0.94 -0.9l0.38 -0.49l0.47 -1.18l1.96 -3.2l0.34 -0.52l0.85 -0.93l1.01 -1.58l1.16 -1.48l0.53 -1.16l0.35 -0.52l1.76 -1.8l0.38 -0.5l1.38 -2.08l1.58 -1.94l0.51 -1.17l0.37 -0.5l1.83 -1.76l0.38 -0.5l0.84 -1.7l1.12 -1.5l0.98 -1.61l1.46 -1.23l0.85 -0.92l0.9 -1.68l0.85 -0.92l1.39 -1.28l1.3 -2.2l0.44 -0.44l2.07 -1.48l0.45 -0.43l0.7 -1.07l0.43 -0.45l1.03 -0.73l1.39 -1.27l0.53 -0.35l0.44 -0.45l0.67 -1.09l2.19 -2.22l0.68 -1.09l1.54 -1.11l0.87 -0.9l1.53 -1.11l0.89 -0.87l0.76 -1.02l1.56 -1.07l0.46 -0.42l1.22 -1.45l1.31 -1.35l1.54 -1.09l0.83 -0.94l1.54 -1.09l0.93 -0.82l1.09 -0.65l0.48 -0.41l0.76 -1.03l3.48 -2.66l0.86 -0.92l2.91 -2.35l0.82 -0.96l1.49 -1.14l1.88 -1.65l1.28 -1.38l1.6 -1.04l2 -2.42l1.05 -0.72l0.46 -0.42l0.96 -1.69l0.39 -0.5l0.96 -0.8l0.86 -0.91l1.54 -1.1l0.39 -0.5l1.75 -1.79l1.06 -0.69l1.17 -0.55l0.52 -0.35l1.28 -1.39l1.6 -0.99l0.94 -0.83l1.03 -0.7l1.28 -1.42l2.64 -1.68l0.48 -0.4l0.84 -0.96l1.08 -0.64l1.48 -1.16l1.11 -0.6l0.47 -0.41l0.72 -1.12l0.54 -0.33l2.34 -1.04l0.52 -0.35l1.26 -1.44l1.92 -1.59l1.78 -0.76l0.51 -0.35l0.89 -0.9l3.1 -2.12l1.76 -1.81l1.79 -0.74l1.23 -1.48l1.63 -0.95l3.41 -2.74l0.52 -0.35l1.17 -0.52l1.33 -1.34l1.67 -0.9l1.46 -1.17l1.58 -1.03l1.22 -1.49l2.6 -1.74l1.64 -0.93l0.43 -0.48l0.72 -1.11l0.49 -0.39l1.71 -0.84l0.51 -0.36l0.86 -0.94l0.49 -0.38l1.06 -0.68l0.95 -0.8l3.13 -2.08l2.29 -2.14l2 -1.51l0.87 -0.91l1.12 -0.59l4.95 -3.81l1.06 -0.66l1.35 -1.34l0.49 -0.38l1.04 -0.7l1.83 -0.63l0.9 -0.9l3.24 -1.9l1.43 -1.23l2.71 -1.57l3.07 -2.14l0.93 -0.86l0.52 -0.35l2.18 -1.23l1.7 -0.82l1.49 -1.14l1.63 -0.94l1.38 -1.31l0.5 -0.38l1.11 -0.58l1.48 -1.16l1.68 -0.85l1.6 -0.98l0.89 -0.93l0.54 -0.31l1.2 -0.45l0.52 -0.35l2.41 -2.01l2.17 -1.24l2.25 -1.13l1.42 -1.24l1.09 -0.63l1.32 -1.39l1.7 -0.83l2.17 -1.25l3.56 -2.53l1.7 -0.82l1.44 -1.24l1.71 -0.79l1.49 -1.16l0.54 -0.31l1.79 -0.67l2.6 -1.73l0.59 -0.24l0.52 -0.34l0.88 -0.95l0.5 -0.37l1.13 -0.56l2.06 -1.41l1.15 -0.51l1.65 -0.91l1.89 -1.69l0.52 -0.35l1.73 -0.76l1.04 -0.69l1.12 -0.56l1.55 -1.07l1.18 -0.45l2.25 -1.08" stroke="#FFD92F" stroke-width="1.9"/>
<path d="M412.00 633.30l0.27 -5.61l0.62 -8.09l0.94 -6.17l0.77 -3.67l1.21 -4.2l0.51 -1.15l0.66 -2.41l1.45 -2.77l0.45 -1.85l0.4 -1.2l0.35 -0.53l0.92 -0.91l0.83 -1.69l1.28 -2.15l1.05 -0.81l0.31 -0.55l0.4 -1.21l0.86 -1.67l0.47 -1.16l2.17 -3.09l0.99 -2.3l1.59 -2.68l0.42 -1.2l1.76 -2.59l0.88 -1.66l1.81 -2.54l0.54 -1.15l1.25 -1.41l0.6 -1.11l1.45 -1.25l0.71 -1.04l0.59 -1.11l1.18 -1.46l0.87 -0.91l1.13 -1.5l0.32 -0.53l0.45 -1.21l0.3 -0.56l0.75 -1l0.25 -0.59l0.34 -0.52l0.45 -0.44l0.63 -1.1l0.93 -0.86l0.74 -1.01l0.93 -0.86l0.38 -0.49l0.63 -1.1l1.84 -1.71l0.69 -1.05l0.41 -0.47l1.46 -1.21l0.4 -0.48l1.02 -1.6l0.88 -0.89l1.19 -1.45l1.41 -1.24l0.84 -0.93l0.93 -0.84l0.77 -0.99l1.32 -1.33l0.47 -0.41l1.63 -1.01l0.43 -0.45l1.1 -1.56l1.07 -0.68l0.48 -0.41l1.58 -1.95l1.06 -0.71l0.46 -0.42l0.71 -1.07l1.98 -1.52l1.19 -1.49l1.63 -0.98l0.92 -0.85l1.24 -1.42l2.6 -1.76l0.48 -0.41l1.23 -1.44l2.5 -1.88l3.76 -3.29l1.57 -1.04l0.44 -0.45l0.74 -1.04l0.86 -0.91l0.53 -0.35l1.19 -0.55l0.46 -0.42l0.79 -0.99l1.76 -1.77l1.09 -1.56l0.48 -0.41l1.17 -0.59l0.5 -0.38l1.69 -1.84l0.77 -1l1.03 -0.73l2.37 -2.03l0.88 -0.88l0.79 -0.98l3.64 -3.43l1.98 -1.52l1.68 -0.89l1.52 -1.1l2.38 -2.02l0.81 -1l0.49 -0.39l1.16 -0.53l0.53 -0.34l1.98 -1.52l1.56 -1.04l2.36 -2.05l2.62 -1.71l1.82 -1.73l1.63 -0.95l0.89 -0.9l1.69 -0.86l1.05 -0.68l0.49 -0.39l0.84 -0.96l1.53 -1.08l0.91 -0.87l3.73 -2.31l2.77 -2.55l1.2 -0.48l0.53 -0.34l1.3 -1.38l1.03 -0.71l1.31 -1.37l1.06 -0.67l1.19 -0.49l1.86 -1.68l1.56 -1.05l0.86 -0.93l1.07 -0.66l0.91 -0.86l1.71 -0.84l2.01 -1.49l1.12 -1.62l3.11 -2.1l1.71 -0.84l1.05 -0.68l0.47 -0.42l1.2 -1.5l0.52 -0.35l1.18 -0.52l1.1 -0.62l0.94 -0.83l1.26 -1.42l1.43 -1.22l0.78 -1.03l0.46 -0.43l1.79 -0.74l0.53 -0.33l0.95 -0.82l1.18 -0.48l1.42 -1.25l1.69 -0.84l1.96 -1.57l1.03 -0.7l2.25 -1.11l0.47 -0.42l0.79 -1.08l0.5 -0.37l3.29 -1.83l3.09 -2.1l0.93 -0.86l2.25 -1.13l2.63 -1.67l0.95 -0.84l1.03 -0.7l1.68 -0.85l1.54 -1.07l1.1 -0.6l1.96 -1.56l2.27 -1.1l0.51 -0.36l0.87 -0.94l0.53 -0.34l1.16 -0.5l0.96 -0.81l1.61 -0.96l1.41 -1.26l1.64 -0.92l1.45 -1.2l1.09 -0.62l0.95 -0.82l1.66 -0.88l3.64 -2.42l2.16 -1.25l0.5 -0.38l0.89 -0.93l0.53 -0.33l1.2 -0.43l3.67 -2.38l2.8 -1.41l1.33 -1.4l2 -1.5l1.12 -0.56l1.04 -0.7l1.14 -0.54l1.05 -0.67l1.72 -0.79l1.98 -1.54l2.05 -1.43l1.78 -0.66l0.54 -0.31l1.5 -1.15l1.72 -0.76l1.65 -0.89" stroke="#E5C494" stroke-width="1.9"/>
<path d="M412.00 633.30l0.47 -9.36l0.9 -8.08l0.45 -1.82l0.33 -2.48l0.74 -2.39l0.15 -1.26l0.28 -1.22l0.81 -1.71l0.18 -0.59l0.08 -1.29l0.14 -0.62l0.93 -1.65l0.51 -1.82l0.72 -1.05l0.49 -1.15l0.9 -1.64l1.09 -1.53l1.89 -3.97l1.1 -1.52l1.04 -2.28l2.22 -3.06l0.53 -1.13l0.4 -1.21l0.3 -0.54l0.86 -0.96l0.31 -0.54l0.33 -1.24l0.28 -0.57l0.32 -0.53l1.25 -1.44l0.41 -1.21l0.56 -1.12l1.54 -1.99l0.86 -1.68l0.75 -1l0.53 -1.15l2.07 -2.37l1.92 -2.47l2.35 -3.69l2.11 -2.34l0.97 -1.61l1.16 -1.47l0.64 -1.07l0.87 -0.91l1.96 -3.22l0.44 -0.46l1.02 -0.77l2.26 -3l0.86 -0.9l1.02 -0.77l0.91 -0.86l1.58 -1.93l0.95 -0.83l1.12 -1.51l1.11 -0.66l0.44 -0.45l0.99 -1.66l1.48 -1.17l0.66 -1.1l1.2 -1.46l0.45 -0.43l1.14 -0.62l2.56 -2.75l3.69 -3.38l1.28 -1.37l0.98 -0.78l1.11 -0.63l0.5 -0.39l1.17 -1.5l4.42 -3.49l0.84 -0.94l2.11 -1.37l1.76 -1.8l1.5 -1.13l1.26 -1.41l1.35 -1.3l1.6 -1.01l1.44 -1.21l2.61 -2.7l0.67 -1.11l1.83 -1.7l1.12 -0.64l0.45 -0.43l0.77 -1l1.92 -1.62l0.77 -1l0.45 -0.42l1.07 -0.69l0.82 -0.95l0.91 -0.86l0.38 -0.51l0.46 -0.43l1.07 -0.67l1.79 -1.76l2.72 -1.59l1.17 -1.55l1.02 -0.73l0.91 -0.86l1.25 -0.43l0.51 -0.36l0.87 -0.91l1.6 -1l2.49 -1.89l1.36 -1.31l1.08 -0.64l1.45 -1.19l1.16 -0.53l0.45 -0.45l0.74 -1.09l1.67 -0.9l2.4 -2.01l2.19 -1.25l1.35 -1.33l1.68 -0.88l2.35 -2.07l0.52 -0.35l1.2 -0.48l1.4 -1.25l1.05 -0.7l1.45 -1.18l1.07 -0.65l2.43 -1.97l0.83 -0.98l0.91 -0.86l1.64 -0.94l0.93 -0.84l2.5 -1.88l0.58 -0.27l1.03 -0.71l1.14 -0.57l0.77 -1.05l0.45 -0.44l1 -0.75l1.11 -0.6l2.08 -1.39l1.8 -1.78l1.52 -1.09l1.83 -1.72l1.77 -0.77l1.42 -1.23l0.8 -1l0.51 -0.37l1.19 -0.5l1.81 -1.74l3.07 -2.16l1.45 -1.19l2.67 -1.64l1.36 -1.33l1.66 -0.89l2.09 -1.37l0.98 -0.79l1.58 -1.01l1.49 -1.14l1.64 -0.92l1.7 -0.82l1.36 -1.34l3.27 -1.86l1.13 -0.55l1.4 -1.29l1.12 -0.56l0.51 -0.37l0.9 -0.92l0.55 -0.29l1.83 -0.62l3.01 -2.25l1.75 -0.74l1.39 -1.3l2.53 -1.85l1.26 -0.35l0.53 -0.34l0.96 -0.81l2.65 -1.65l0.96 -0.82l1.12 -0.58l0.95 -0.81l2.91 -1.27l2.51 -1.87l0.89 -0.92l1.65 -0.91l1.53 -1.07l0.47 -0.44l1.66 -0.88l1 -0.76l1.17 -0.48l0.95 -0.84l1.12 -0.57l0.51 -0.36l1.72 -0.78l2.19 -1.21l1.45 -1.22l1.11 -0.57l0.92 -0.89l2.58 -1.76l1.22 -0.42l0.55 -0.3l1.58 -1l0.98 -0.8l1.09 -0.61l1.03 -0.71l1.71 -0.79l1.54 -1.09l1.21 -0.4l4.43 -2.31" stroke="#B3B3B3" stroke-width="1.9"/>
</g>
<line x1="399.06" y1="646.01" x2="683.63" y2="366.28" stroke="#000" stroke-width="1.25" stroke-dasharray="4.3 3.908" stroke-dashoffset="0.32"/>
<path d="M399.06 366.28V646.01H683.63" fill="none" stroke="#000" stroke-width="1.1"/>
<path d="M396.06 633.30H399.06M412.00 646.01V649.01M396.06 607.87H399.06M437.87 646.01V649.01M396.06 569.72H399.06M476.68 646.01V649.01M396.06 506.15H399.06M541.35 646.01V649.01M396.06 442.57H399.06M606.02 646.01V649.01M396.06 404.43H399.06M644.83 646.01V649.01M396.06 379.00H399.06M670.70 646.01V649.01" stroke="#000" stroke-width="1.1"/>
<text x="391.96" y="637.50" text-anchor="end" font-size="10.9">0.00</text>
<text x="412.00" y="661.31" text-anchor="middle" font-size="10.9">0.00</text>
<text x="391.96" y="612.07" text-anchor="end" font-size="10.9">0.10</text>
<text x="437.87" y="661.31" text-anchor="middle" font-size="10.9">0.10</text>
<text x="391.96" y="573.92" text-anchor="end" font-size="10.9">0.25</text>
<text x="476.68" y="661.31" text-anchor="middle" font-size="10.9">0.25</text>
<text x="391.96" y="510.35" text-anchor="end" font-size="10.9">0.50</text>
<text x="541.35" y="661.31" text-anchor="middle" font-size="10.9">0.50</text>
<text x="391.96" y="446.77" text-anchor="end" font-size="10.9">0.75</text>
<text x="606.02" y="661.31" text-anchor="middle" font-size="10.9">0.75</text>
<text x="391.96" y="408.63" text-anchor="end" font-size="10.9">0.90</text>
<text x="644.83" y="661.31" text-anchor="middle" font-size="10.9">0.90</text>
<text x="391.96" y="383.20" text-anchor="end" font-size="10.9">1.00</text>
<text x="670.70" y="661.31" text-anchor="middle" font-size="10.9">1.00</text>
<text x="541.35" y="678.22" text-anchor="middle" font-size="11">False positive fraction</text>
<text transform="translate(359.56 506.15) rotate(-90)" text-anchor="middle" font-size="11.12">True positive fraction</text>
<text x="576.47" y="494.10" font-size="11">Method (AUC)</text>
<line x1="577.97" y1="506.30" x2="591.47" y2="506.30" stroke="#66C2A5" stroke-width="2"/>
<text x="595.76" y="509.60" font-size="9.5">RSS−E (0.895)</text>
<line x1="577.97" y1="522.45" x2="591.47" y2="522.45" stroke="#FC8D62" stroke-width="2"/>
<text x="595.76" y="525.75" font-size="9.5">GATES (0.627)</text>
<line x1="577.97" y1="538.60" x2="591.47" y2="538.60" stroke="#8DA0CB" stroke-width="2"/>
<text x="595.76" y="541.90" font-size="9.5">VEGAS−max (0.621)</text>
<line x1="577.97" y1="554.75" x2="591.47" y2="554.75" stroke="#E78AC3" stroke-width="2"/>
<text x="595.76" y="558.05" font-size="9.5">VEGAS−10% (0.626)</text>
<line x1="577.97" y1="570.90" x2="591.47" y2="570.90" stroke="#A6D854" stroke-width="2"/>
<text x="595.76" y="574.20" font-size="9.5">VEGAS−20% (0.628)</text>
<line x1="577.97" y1="587.05" x2="591.47" y2="587.05" stroke="#FFD92F" stroke-width="2"/>
<text x="595.76" y="590.35" font-size="9.5">VEGAS−sum (0.627)</text>
<line x1="577.97" y1="603.20" x2="591.47" y2="603.20" stroke="#E5C494" stroke-width="2"/>
<text x="595.76" y="606.50" font-size="9.5">SimpleM (0.625)</text>
<line x1="577.97" y1="619.35" x2="591.47" y2="619.35" stroke="#B3B3B3" stroke-width="2"/>
<text x="595.76" y="622.65" font-size="9.5">COMBAT (0.627)</text>
<text x="186.20" y="14.60" text-anchor="middle" font-size="11.1">Baseline and sparse</text>
<text x="536.50" y="14.60" text-anchor="middle" font-size="11.1">Enrichment and sparse</text>
<text x="184.70" y="362.70" text-anchor="middle" font-size="11.1">Baseline and polygenic</text>
<text x="541.70" y="362.70" text-anchor="middle" font-size="11.1">Enrichment and polygenic</text>
<text x="-0.4" y="11.6" font-size="16" font-weight="bold">a</text>
<text x="351.3" y="11.6" font-size="16" font-weight="bold">b</text>
</svg></body></html>
